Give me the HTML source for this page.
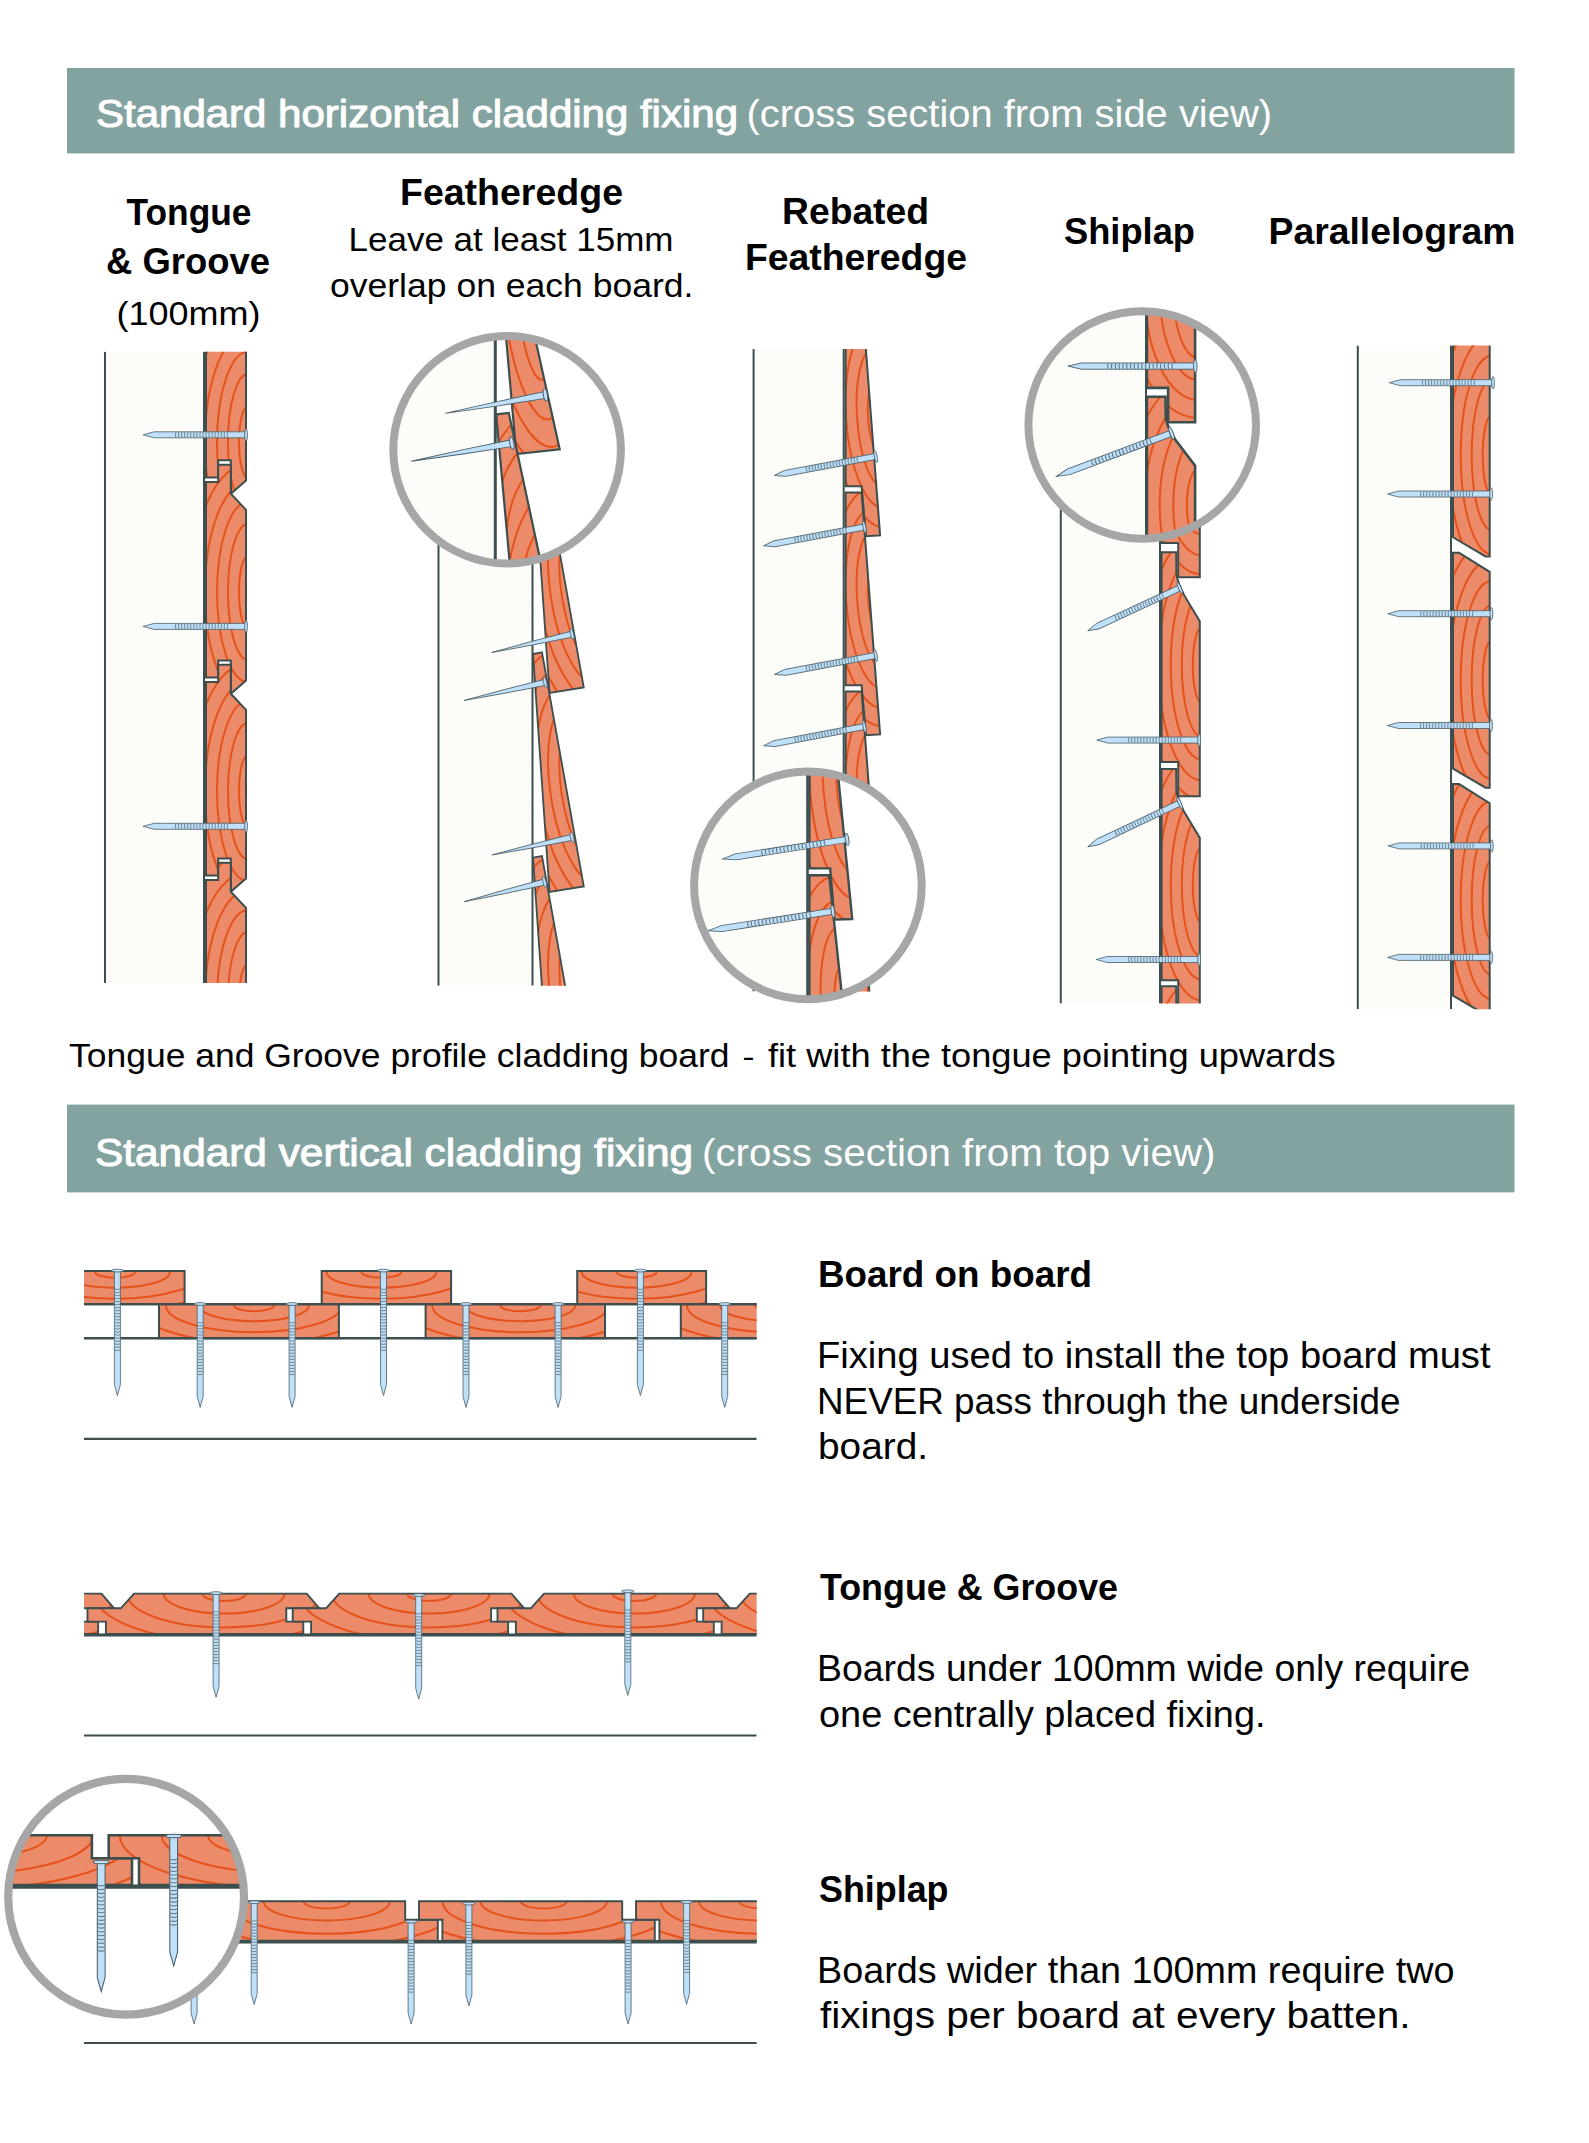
<!DOCTYPE html>
<html lang="en"><head><meta charset="utf-8"><title>Cladding fixing guide</title>
<style>
html,body{margin:0;padding:0;background:#fff;}
body{width:1589px;height:2143px;overflow:hidden;font-family:"Liberation Sans",sans-serif;}
svg{display:block;}
</style></head><body>
<svg width="1589" height="2143" viewBox="0 0 1589 2143" font-family="'Liberation Sans', sans-serif">
<defs><clipPath id="d1"><rect x="90" y="351.7" width="180" height="631.3"/></clipPath><clipPath id="b2"><polygon points="206.0,321.7 246.0,321.7 246.0,480.5 230.8,493.7 230.8,460.3 218.2,460.3 218.2,477.5 206.0,477.5"/></clipPath><clipPath id="b3"><polygon points="206.0,482.0 218.2,482.0 218.2,464.7 230.8,464.7 230.8,493.7 246.0,509.8 246.0,680.6 230.8,693.8 230.8,660.4 218.2,660.4 218.2,677.6 206.0,677.6"/></clipPath><clipPath id="b4"><polygon points="206.0,682.1 218.2,682.1 218.2,664.8 230.8,664.8 230.8,693.8 246.0,709.9 246.0,878.6 230.8,891.8 230.8,858.4 218.2,858.4 218.2,875.6 206.0,875.6"/></clipPath><clipPath id="b5"><polygon points="206.0,880.1 218.2,880.1 218.2,862.8 230.8,862.8 230.8,891.8 246.0,907.9 246.0,1013.0 206.0,1013.0"/></clipPath><clipPath id="r6"><rect x="420" y="372.0" width="200" height="613.8"/></clipPath><clipPath id="b7"><polygon points="533.0,248.0 542.0,246.3 583.8,480.5 549.5,486.0"/></clipPath><clipPath id="b8"><polygon points="533.0,455.0 542.0,453.3 583.8,687.5 549.5,693.0"/></clipPath><clipPath id="b9"><polygon points="533.0,654.0 542.0,652.3 583.8,886.5 549.5,892.0"/></clipPath><clipPath id="b10"><polygon points="533.0,857.7 542.0,856.0 583.8,1090.2 549.5,1095.7"/></clipPath><clipPath id="k11"><circle cx="507.1" cy="449.8" r="113.7"/></clipPath><clipPath id="b12"><polygon points="505.0,325.0 532.2,325.0 559.7,449.3 516.3,454.0"/></clipPath><clipPath id="b13"><polygon points="496.2,414.4 508.8,412.9 543.5,575.0 510.8,575.0"/></clipPath><clipPath id="r14"><rect x="740" y="348.9" width="200" height="642.7"/></clipPath><clipPath id="b15"><polygon points="845.6,328.9 864.3,328.9 880.1,535.4 866.0,536.2 861.6,486.3 845.6,486.3"/></clipPath><clipPath id="b16"><polygon points="845.6,492.4 861.6,492.4 880.1,734.4 866.0,735.2 861.6,685.3 845.6,685.3"/></clipPath><clipPath id="b17"><polygon points="845.6,691.4 861.6,691.4 880.1,933.4 866.0,934.2 861.6,884.3 845.6,884.3"/></clipPath><clipPath id="b18"><polygon points="845.6,890.4 861.6,890.4 880.1,1132.4 866.0,1133.2 861.6,1083.3 845.6,1083.3"/></clipPath><clipPath id="k19"><circle cx="807.9" cy="885.4" r="114"/></clipPath><clipPath id="b20"><polygon points="809.4,740.0 834.6,740.0 852.2,919.0 834.4,919.6 830.1,868.4 809.4,868.4"/></clipPath><clipPath id="b21"><polygon points="809.4,875.2 829.1,875.2 843.5,1010.0 809.4,1010.0"/></clipPath><clipPath id="r22"><rect x="1040" y="360.0" width="200" height="643.4"/></clipPath><clipPath id="b23"><polygon points="1161.6,340.0 1199.8,340.0 1199.8,577.3 1178.2,577.3 1178.2,543.0 1161.6,543.0"/></clipPath><clipPath id="b24"><polygon points="1161.6,552.2 1176.2,552.2 1176.4,573.2 1177.2,578.2 1179.4,584.8 1184.0,594.9 1199.8,621.2 1199.8,796.3 1178.2,796.3 1178.2,762.0 1161.6,762.0"/></clipPath><clipPath id="b25"><polygon points="1161.6,768.9 1176.2,768.9 1176.4,789.9 1177.2,794.9 1179.4,801.5 1184.0,811.6 1199.8,837.9 1199.8,1014.5 1178.2,1014.5 1178.2,980.2 1161.6,980.2"/></clipPath><clipPath id="b26"><polygon points="1161.6,986.3 1176.2,986.3 1176.4,1007.3 1177.2,1012.3 1179.4,1018.9 1184.0,1029.0 1199.8,1055.3 1199.8,1023.4 1161.6,1023.4"/></clipPath><clipPath id="k27"><circle cx="1142.2" cy="425.0" r="114"/></clipPath><clipPath id="b28"><polygon points="1146.9,290.0 1195.1,290.0 1195.1,422.2 1168.1,422.2 1168.1,387.9 1146.9,387.9"/></clipPath><clipPath id="b29"><polygon points="1146.9,396.8 1165.5,396.8 1165.8,417.8 1166.8,422.8 1169.5,429.4 1175.2,439.5 1195.1,465.8 1195.1,560.0 1146.9,560.0"/></clipPath><clipPath id="r30"><rect x="1340" y="345.5" width="200" height="663.7"/></clipPath><clipPath id="b31"><polygon points="1453.0,325.5 1489.7,325.5 1489.7,556.4 1485.5,556.4 1453.0,537.3"/></clipPath><clipPath id="b32"><polygon points="1453.0,552.8 1459.1,552.8 1489.7,571.9 1489.7,787.7 1485.5,787.7 1453.0,768.6"/></clipPath><clipPath id="b33"><polygon points="1453.0,784.1 1459.1,784.1 1489.7,803.2 1489.7,1014.7 1485.5,1014.7 1453.0,995.6"/></clipPath><clipPath id="b34"><polygon points="1453.0,1011.1 1459.1,1011.1 1489.7,1030.2 1489.7,1039.2 1453.0,1039.2"/></clipPath><clipPath id="r35"><rect x="84.0" y="1250" width="672.7" height="220"/></clipPath><clipPath id="b36"><polygon points="55.0,1271.1 184.6,1271.1 184.6,1304.2 55.0,1304.2"/></clipPath><clipPath id="b37"><polygon points="321.7,1271.1 451.1,1271.1 451.1,1304.2 321.7,1304.2"/></clipPath><clipPath id="b38"><polygon points="577.2,1271.1 706.1,1271.1 706.1,1304.2 577.2,1304.2"/></clipPath><clipPath id="b39"><polygon points="159.0,1304.2 338.9,1304.2 338.9,1338.2 159.0,1338.2"/></clipPath><clipPath id="b40"><polygon points="425.6,1304.2 605.0,1304.2 605.0,1338.2 425.6,1338.2"/></clipPath><clipPath id="b41"><polygon points="680.8,1304.2 795.7,1304.2 795.7,1338.2 680.8,1338.2"/></clipPath><clipPath id="r42"><rect x="84.0" y="1570" width="672.7" height="200"/></clipPath><clipPath id="b43"><polygon points="54.0,1593.6 54.0,1634.0 98.1,1634.0 98.1,1621.6 81.1,1621.6 81.1,1608.3 114.1,1608.3 101.5,1593.6"/></clipPath><clipPath id="b44"><polygon points="134.1,1593.6 120.8,1608.3 87.5,1608.3 87.5,1621.6 105.9,1621.6 105.9,1634.0 303.3,1634.0 303.3,1621.6 286.3,1621.6 286.3,1608.3 319.3,1608.3 306.7,1593.6"/></clipPath><clipPath id="b45"><polygon points="339.3,1593.6 326.0,1608.3 292.7,1608.3 292.7,1621.6 311.1,1621.6 311.1,1634.0 508.1,1634.0 508.1,1621.6 491.1,1621.6 491.1,1608.3 524.1,1608.3 511.5,1593.6"/></clipPath><clipPath id="b46"><polygon points="544.1,1593.6 530.8,1608.3 497.5,1608.3 497.5,1621.6 515.9,1621.6 515.9,1634.0 713.8,1634.0 713.8,1621.6 696.8,1621.6 696.8,1608.3 729.8,1608.3 717.2,1593.6"/></clipPath><clipPath id="b47"><polygon points="796.7,1593.6 796.7,1634.0 721.6,1634.0 721.6,1621.6 703.2,1621.6 703.2,1608.3 736.5,1608.3 749.8,1593.6"/></clipPath><clipPath id="r48"><rect x="83.8" y="1880" width="673.0" height="200"/></clipPath><clipPath id="b49"><polygon points="-15.0,1901.3 -15.0,1919.7 8.4,1919.7 8.4,1940.8 220.8,1940.8 220.8,1919.7 188.2,1919.7 188.2,1901.3"/></clipPath><clipPath id="b50"><polygon points="202.0,1901.3 202.0,1919.7 225.4,1919.7 225.4,1940.8 437.8,1940.8 437.8,1919.7 405.2,1919.7 405.2,1901.3"/></clipPath><clipPath id="b51"><polygon points="419.0,1901.3 419.0,1919.7 442.4,1919.7 442.4,1940.8 654.8,1940.8 654.8,1919.7 622.2,1919.7 622.2,1901.3"/></clipPath><clipPath id="b52"><polygon points="636.0,1901.3 636.0,1919.7 659.4,1919.7 659.4,1940.8 796.8,1940.8 796.8,1901.3"/></clipPath><clipPath id="k53"><circle cx="126.1" cy="1896.8" r="117.9"/></clipPath><clipPath id="b54"><polygon points="-10.0,1835.2 91.9,1835.2 91.9,1858.2 132.0,1858.2 132.0,1885.0 -10.0,1885.0"/></clipPath><clipPath id="b55"><polygon points="108.7,1835.2 270.0,1835.2 270.0,1885.0 139.0,1885.0 139.0,1858.2 108.7,1858.2"/></clipPath></defs>
<rect x="67.0" y="68.0" width="1447.5" height="85.4" fill="#83A3A1"/>
<rect x="67.0" y="1104.6" width="1447.5" height="87.8" fill="#83A3A1"/>
<text y="127.0" font-size="38" fill="#fff"><tspan x="96.0" font-weight="normal" textLength="642.0" lengthAdjust="spacingAndGlyphs" stroke="#fff" stroke-width="1.0" stroke-linejoin="round">Standard horizontal cladding fixing</tspan> <tspan x="746.5" font-weight="normal" textLength="525.5" lengthAdjust="spacingAndGlyphs">(cross section from side view)</tspan></text>
<text y="1166.0" font-size="38" fill="#fff"><tspan x="95.0" font-weight="normal" textLength="598.0" lengthAdjust="spacingAndGlyphs" stroke="#fff" stroke-width="1.0" stroke-linejoin="round">Standard vertical cladding fixing</tspan> <tspan x="702.0" font-weight="normal" textLength="513.5" lengthAdjust="spacingAndGlyphs">(cross section from top view)</tspan></text>
<text x="126.5" y="225.0" font-size="36" font-weight="bold" fill="#000" text-anchor="start" textLength="125.0" lengthAdjust="spacingAndGlyphs">Tongue</text>
<text x="106.0" y="274.4" font-size="36" font-weight="bold" fill="#000" text-anchor="start" textLength="164.0" lengthAdjust="spacingAndGlyphs">&amp; Groove</text>
<text x="116.5" y="324.7" font-size="33" font-weight="normal" fill="#000" text-anchor="start" textLength="144.0" lengthAdjust="spacingAndGlyphs">(100mm)</text>
<text x="400.0" y="205.4" font-size="36" font-weight="bold" fill="#000" text-anchor="start" textLength="223.0" lengthAdjust="spacingAndGlyphs">Featheredge</text>
<text x="348.5" y="250.7" font-size="33" font-weight="normal" fill="#000" text-anchor="start" textLength="325.0" lengthAdjust="spacingAndGlyphs">Leave at least 15mm</text>
<text x="330.0" y="297.0" font-size="33" font-weight="normal" fill="#000" text-anchor="start" textLength="363.5" lengthAdjust="spacingAndGlyphs">overlap on each board.</text>
<text x="782.0" y="223.8" font-size="36" font-weight="bold" fill="#000" text-anchor="start" textLength="147.0" lengthAdjust="spacingAndGlyphs">Rebated</text>
<text x="745.0" y="269.9" font-size="36" font-weight="bold" fill="#000" text-anchor="start" textLength="222.0" lengthAdjust="spacingAndGlyphs">Featheredge</text>
<text x="1064.0" y="244.3" font-size="36" font-weight="bold" fill="#000" text-anchor="start" textLength="131.0" lengthAdjust="spacingAndGlyphs">Shiplap</text>
<text x="1268.5" y="244.3" font-size="36" font-weight="bold" fill="#000" text-anchor="start" textLength="247.0" lengthAdjust="spacingAndGlyphs">Parallelogram</text>
<text y="1066.8" font-size="33.5" fill="#000"><tspan x="69.0" font-weight="normal" textLength="660.5" lengthAdjust="spacingAndGlyphs">Tongue and Groove profile cladding board</tspan> <tspan x="744.0" font-weight="normal" textLength="9.0" lengthAdjust="spacingAndGlyphs">–</tspan> <tspan x="768.0" font-weight="normal" textLength="567.5" lengthAdjust="spacingAndGlyphs">fit with the tongue pointing upwards</tspan></text>
<text x="818.0" y="1286.9" font-size="36" font-weight="bold" fill="#000" text-anchor="start" textLength="274.0" lengthAdjust="spacingAndGlyphs">Board on board</text>
<text x="817.0" y="1367.9" font-size="36" font-weight="normal" fill="#000" text-anchor="start" textLength="673.5" lengthAdjust="spacingAndGlyphs">Fixing used to install the top board must</text>
<text x="817.0" y="1414.1" font-size="36" font-weight="normal" fill="#000" text-anchor="start" textLength="583.5" lengthAdjust="spacingAndGlyphs">NEVER pass through the underside</text>
<text x="818.0" y="1459.4" font-size="36" font-weight="normal" fill="#000" text-anchor="start" textLength="110.0" lengthAdjust="spacingAndGlyphs">board.</text>
<text x="820.0" y="1599.9" font-size="36" font-weight="bold" fill="#000" text-anchor="start" textLength="298.0" lengthAdjust="spacingAndGlyphs">Tongue &amp; Groove</text>
<text x="817.0" y="1681.4" font-size="36" font-weight="normal" fill="#000" text-anchor="start" textLength="653.0" lengthAdjust="spacingAndGlyphs">Boards under 100mm wide only require</text>
<text x="819.0" y="1726.6" font-size="36" font-weight="normal" fill="#000" text-anchor="start" textLength="446.5" lengthAdjust="spacingAndGlyphs">one centrally placed fixing.</text>
<text x="819.0" y="1901.9" font-size="36" font-weight="bold" fill="#000" text-anchor="start" textLength="129.5" lengthAdjust="spacingAndGlyphs">Shiplap</text>
<text x="817.0" y="1982.9" font-size="36" font-weight="normal" fill="#000" text-anchor="start" textLength="637.5" lengthAdjust="spacingAndGlyphs">Boards wider than 100mm require two</text>
<text x="820.0" y="2028.2" font-size="36" font-weight="normal" fill="#000" text-anchor="start" textLength="590.5" lengthAdjust="spacingAndGlyphs">fixings per board at every batten.</text>
<g clip-path="url(#d1)"><rect x="105.0" y="351.7" width="99.0" height="631.3" fill="#FCFDF8"/><line x1="105.0" y1="351.7" x2="105.0" y2="983.0" stroke="#3C4E4E" stroke-width="2"/><line x1="204.0" y1="351.7" x2="204.0" y2="983.0" stroke="#3C4E4E" stroke-width="2"/><polygon points="206.0,321.7 246.0,321.7 246.0,480.5 230.8,493.7 230.8,460.3 218.2,460.3 218.2,477.5 206.0,477.5" fill="#EC8B69"/><g clip-path="url(#b2)"><g fill="none" stroke="#E5531C" stroke-width="2.0"><ellipse cx="248.0" cy="441.9" rx="9.0" ry="36.0"/><ellipse cx="248.0" cy="441.9" rx="20.0" ry="68.0"/><ellipse cx="248.0" cy="441.9" rx="31.0" ry="90.0"/><ellipse cx="248.0" cy="441.9" rx="43.0" ry="110.0"/><ellipse cx="248.0" cy="441.9" rx="57.0" ry="128.0"/><ellipse cx="248.0" cy="441.9" rx="73.0" ry="146.0"/><ellipse cx="248.0" cy="441.9" rx="92.0" ry="164.0"/><ellipse cx="248.0" cy="441.9" rx="115.0" ry="182.0"/><ellipse cx="248.0" cy="441.9" rx="142.0" ry="200.0"/><ellipse cx="248.0" cy="441.9" rx="175.0" ry="220.0"/></g></g><polygon points="206.0,321.7 246.0,321.7 246.0,480.5 230.8,493.7 230.8,460.3 218.2,460.3 218.2,477.5 206.0,477.5" fill="none" stroke="#3C4E4E" stroke-width="2.0" stroke-linejoin="miter"/><polygon points="206.0,482.0 218.2,482.0 218.2,464.7 230.8,464.7 230.8,493.7 246.0,509.8 246.0,680.6 230.8,693.8 230.8,660.4 218.2,660.4 218.2,677.6 206.0,677.6" fill="#EC8B69"/><g clip-path="url(#b3)"><g fill="none" stroke="#E5531C" stroke-width="2.0"><ellipse cx="248.0" cy="592.0" rx="9.0" ry="36.0"/><ellipse cx="248.0" cy="592.0" rx="20.0" ry="68.0"/><ellipse cx="248.0" cy="592.0" rx="31.0" ry="90.0"/><ellipse cx="248.0" cy="592.0" rx="43.0" ry="110.0"/><ellipse cx="248.0" cy="592.0" rx="57.0" ry="128.0"/><ellipse cx="248.0" cy="592.0" rx="73.0" ry="146.0"/><ellipse cx="248.0" cy="592.0" rx="92.0" ry="164.0"/><ellipse cx="248.0" cy="592.0" rx="115.0" ry="182.0"/><ellipse cx="248.0" cy="592.0" rx="142.0" ry="200.0"/><ellipse cx="248.0" cy="592.0" rx="175.0" ry="220.0"/></g></g><polygon points="206.0,482.0 218.2,482.0 218.2,464.7 230.8,464.7 230.8,493.7 246.0,509.8 246.0,680.6 230.8,693.8 230.8,660.4 218.2,660.4 218.2,677.6 206.0,677.6" fill="none" stroke="#3C4E4E" stroke-width="2.0" stroke-linejoin="miter"/><polygon points="206.0,682.1 218.2,682.1 218.2,664.8 230.8,664.8 230.8,693.8 246.0,709.9 246.0,878.6 230.8,891.8 230.8,858.4 218.2,858.4 218.2,875.6 206.0,875.6" fill="#EC8B69"/><g clip-path="url(#b4)"><g fill="none" stroke="#E5531C" stroke-width="2.0"><ellipse cx="248.0" cy="791.1" rx="9.0" ry="36.0"/><ellipse cx="248.0" cy="791.1" rx="20.0" ry="68.0"/><ellipse cx="248.0" cy="791.1" rx="31.0" ry="90.0"/><ellipse cx="248.0" cy="791.1" rx="43.0" ry="110.0"/><ellipse cx="248.0" cy="791.1" rx="57.0" ry="128.0"/><ellipse cx="248.0" cy="791.1" rx="73.0" ry="146.0"/><ellipse cx="248.0" cy="791.1" rx="92.0" ry="164.0"/><ellipse cx="248.0" cy="791.1" rx="115.0" ry="182.0"/><ellipse cx="248.0" cy="791.1" rx="142.0" ry="200.0"/><ellipse cx="248.0" cy="791.1" rx="175.0" ry="220.0"/></g></g><polygon points="206.0,682.1 218.2,682.1 218.2,664.8 230.8,664.8 230.8,693.8 246.0,709.9 246.0,878.6 230.8,891.8 230.8,858.4 218.2,858.4 218.2,875.6 206.0,875.6" fill="none" stroke="#3C4E4E" stroke-width="2.0" stroke-linejoin="miter"/><polygon points="206.0,880.1 218.2,880.1 218.2,862.8 230.8,862.8 230.8,891.8 246.0,907.9 246.0,1013.0 206.0,1013.0" fill="#EC8B69"/><g clip-path="url(#b5)"><g fill="none" stroke="#E5531C" stroke-width="2.0"><ellipse cx="248.0" cy="1000.0" rx="9.0" ry="36.0"/><ellipse cx="248.0" cy="1000.0" rx="20.0" ry="68.0"/><ellipse cx="248.0" cy="1000.0" rx="31.0" ry="90.0"/><ellipse cx="248.0" cy="1000.0" rx="43.0" ry="110.0"/><ellipse cx="248.0" cy="1000.0" rx="57.0" ry="128.0"/><ellipse cx="248.0" cy="1000.0" rx="73.0" ry="146.0"/><ellipse cx="248.0" cy="1000.0" rx="92.0" ry="164.0"/><ellipse cx="248.0" cy="1000.0" rx="115.0" ry="182.0"/><ellipse cx="248.0" cy="1000.0" rx="142.0" ry="200.0"/><ellipse cx="248.0" cy="1000.0" rx="175.0" ry="220.0"/></g></g><polygon points="206.0,880.1 218.2,880.1 218.2,862.8 230.8,862.8 230.8,891.8 246.0,907.9 246.0,1013.0 206.0,1013.0" fill="none" stroke="#3C4E4E" stroke-width="2.0" stroke-linejoin="miter"/><g transform="translate(247.7,434.8) rotate(0.00) scale(1.000,1.000)"><path d="M-2.5,-3.0 L-93.6,-3.0 L-104.6,0 L-93.6,3.0 L-2.5,3.0 Z" fill="#BFE0F8" stroke="#4A5E68" stroke-width="0.8" stroke-linejoin="miter"/><path d="M-20.0,-2.5 q-1.1,2.5 0,5.0 M-23.1,-2.5 q-1.1,2.5 0,5.0 M-26.1,-2.5 q-1.1,2.5 0,5.0 M-29.2,-2.5 q-1.1,2.5 0,5.0 M-32.2,-2.5 q-1.1,2.5 0,5.0 M-35.2,-2.5 q-1.1,2.5 0,5.0 M-38.3,-2.5 q-1.1,2.5 0,5.0 M-41.3,-2.5 q-1.1,2.5 0,5.0 M-44.4,-2.5 q-1.1,2.5 0,5.0 M-47.4,-2.5 q-1.1,2.5 0,5.0 M-50.5,-2.5 q-1.1,2.5 0,5.0 M-53.5,-2.5 q-1.1,2.5 0,5.0 M-56.6,-2.5 q-1.1,2.5 0,5.0 M-59.6,-2.5 q-1.1,2.5 0,5.0 M-62.7,-2.5 q-1.1,2.5 0,5.0 M-65.7,-2.5 q-1.1,2.5 0,5.0 M-68.8,-2.5 q-1.1,2.5 0,5.0 M-71.8,-2.5 q-1.1,2.5 0,5.0" fill="none" stroke="#4A5E68" stroke-width="0.9" opacity="0.8"/><ellipse cx="-1.6" cy="0" rx="1.4" ry="6.2" fill="#BFE0F8" stroke="#4A5E68" stroke-width="0.8"/></g><g transform="translate(247.7,626.4) rotate(0.00) scale(1.000,1.000)"><path d="M-2.5,-3.0 L-93.6,-3.0 L-104.6,0 L-93.6,3.0 L-2.5,3.0 Z" fill="#BFE0F8" stroke="#4A5E68" stroke-width="0.8" stroke-linejoin="miter"/><path d="M-20.0,-2.5 q-1.1,2.5 0,5.0 M-23.1,-2.5 q-1.1,2.5 0,5.0 M-26.1,-2.5 q-1.1,2.5 0,5.0 M-29.2,-2.5 q-1.1,2.5 0,5.0 M-32.2,-2.5 q-1.1,2.5 0,5.0 M-35.2,-2.5 q-1.1,2.5 0,5.0 M-38.3,-2.5 q-1.1,2.5 0,5.0 M-41.3,-2.5 q-1.1,2.5 0,5.0 M-44.4,-2.5 q-1.1,2.5 0,5.0 M-47.4,-2.5 q-1.1,2.5 0,5.0 M-50.5,-2.5 q-1.1,2.5 0,5.0 M-53.5,-2.5 q-1.1,2.5 0,5.0 M-56.6,-2.5 q-1.1,2.5 0,5.0 M-59.6,-2.5 q-1.1,2.5 0,5.0 M-62.7,-2.5 q-1.1,2.5 0,5.0 M-65.7,-2.5 q-1.1,2.5 0,5.0 M-68.8,-2.5 q-1.1,2.5 0,5.0 M-71.8,-2.5 q-1.1,2.5 0,5.0" fill="none" stroke="#4A5E68" stroke-width="0.9" opacity="0.8"/><ellipse cx="-1.6" cy="0" rx="1.4" ry="6.2" fill="#BFE0F8" stroke="#4A5E68" stroke-width="0.8"/></g><g transform="translate(247.7,826.3) rotate(0.00) scale(1.000,1.000)"><path d="M-2.5,-3.0 L-93.6,-3.0 L-104.6,0 L-93.6,3.0 L-2.5,3.0 Z" fill="#BFE0F8" stroke="#4A5E68" stroke-width="0.8" stroke-linejoin="miter"/><path d="M-20.0,-2.5 q-1.1,2.5 0,5.0 M-23.1,-2.5 q-1.1,2.5 0,5.0 M-26.1,-2.5 q-1.1,2.5 0,5.0 M-29.2,-2.5 q-1.1,2.5 0,5.0 M-32.2,-2.5 q-1.1,2.5 0,5.0 M-35.2,-2.5 q-1.1,2.5 0,5.0 M-38.3,-2.5 q-1.1,2.5 0,5.0 M-41.3,-2.5 q-1.1,2.5 0,5.0 M-44.4,-2.5 q-1.1,2.5 0,5.0 M-47.4,-2.5 q-1.1,2.5 0,5.0 M-50.5,-2.5 q-1.1,2.5 0,5.0 M-53.5,-2.5 q-1.1,2.5 0,5.0 M-56.6,-2.5 q-1.1,2.5 0,5.0 M-59.6,-2.5 q-1.1,2.5 0,5.0 M-62.7,-2.5 q-1.1,2.5 0,5.0 M-65.7,-2.5 q-1.1,2.5 0,5.0 M-68.8,-2.5 q-1.1,2.5 0,5.0 M-71.8,-2.5 q-1.1,2.5 0,5.0" fill="none" stroke="#4A5E68" stroke-width="0.9" opacity="0.8"/><ellipse cx="-1.6" cy="0" rx="1.4" ry="6.2" fill="#BFE0F8" stroke="#4A5E68" stroke-width="0.8"/></g></g>
<g clip-path="url(#r6)"><rect x="438.5" y="372.0" width="94.0" height="613.8" fill="#FCFDF8"/><line x1="438.5" y1="372.0" x2="438.5" y2="985.8" stroke="#3C4E4E" stroke-width="2"/><line x1="532.5" y1="372.0" x2="532.5" y2="985.8" stroke="#3C4E4E" stroke-width="2"/><polygon points="533.0,248.0 542.0,246.3 583.8,480.5 549.5,486.0" fill="#EC8B69"/><g clip-path="url(#b7)"><g fill="none" stroke="#E5531C" stroke-width="2.0" transform="rotate(-9 581.8 387.0)"><ellipse cx="581.8" cy="387.0" rx="9.0" ry="36.0"/><ellipse cx="581.8" cy="387.0" rx="20.0" ry="68.0"/><ellipse cx="581.8" cy="387.0" rx="31.0" ry="90.0"/><ellipse cx="581.8" cy="387.0" rx="43.0" ry="110.0"/><ellipse cx="581.8" cy="387.0" rx="57.0" ry="128.0"/><ellipse cx="581.8" cy="387.0" rx="73.0" ry="146.0"/><ellipse cx="581.8" cy="387.0" rx="92.0" ry="164.0"/><ellipse cx="581.8" cy="387.0" rx="115.0" ry="182.0"/><ellipse cx="581.8" cy="387.0" rx="142.0" ry="200.0"/></g></g><polygon points="533.0,248.0 542.0,246.3 583.8,480.5 549.5,486.0" fill="none" stroke="#3C4E4E" stroke-width="1.8" stroke-linejoin="miter"/><polygon points="533.0,455.0 542.0,453.3 583.8,687.5 549.5,693.0" fill="#EC8B69"/><g clip-path="url(#b8)"><g fill="none" stroke="#E5531C" stroke-width="2.0" transform="rotate(-9 581.8 594.0)"><ellipse cx="581.8" cy="594.0" rx="9.0" ry="36.0"/><ellipse cx="581.8" cy="594.0" rx="20.0" ry="68.0"/><ellipse cx="581.8" cy="594.0" rx="31.0" ry="90.0"/><ellipse cx="581.8" cy="594.0" rx="43.0" ry="110.0"/><ellipse cx="581.8" cy="594.0" rx="57.0" ry="128.0"/><ellipse cx="581.8" cy="594.0" rx="73.0" ry="146.0"/><ellipse cx="581.8" cy="594.0" rx="92.0" ry="164.0"/><ellipse cx="581.8" cy="594.0" rx="115.0" ry="182.0"/><ellipse cx="581.8" cy="594.0" rx="142.0" ry="200.0"/></g></g><polygon points="533.0,455.0 542.0,453.3 583.8,687.5 549.5,693.0" fill="none" stroke="#3C4E4E" stroke-width="1.8" stroke-linejoin="miter"/><polygon points="533.0,654.0 542.0,652.3 583.8,886.5 549.5,892.0" fill="#EC8B69"/><g clip-path="url(#b9)"><g fill="none" stroke="#E5531C" stroke-width="2.0" transform="rotate(-9 581.8 793.0)"><ellipse cx="581.8" cy="793.0" rx="9.0" ry="36.0"/><ellipse cx="581.8" cy="793.0" rx="20.0" ry="68.0"/><ellipse cx="581.8" cy="793.0" rx="31.0" ry="90.0"/><ellipse cx="581.8" cy="793.0" rx="43.0" ry="110.0"/><ellipse cx="581.8" cy="793.0" rx="57.0" ry="128.0"/><ellipse cx="581.8" cy="793.0" rx="73.0" ry="146.0"/><ellipse cx="581.8" cy="793.0" rx="92.0" ry="164.0"/><ellipse cx="581.8" cy="793.0" rx="115.0" ry="182.0"/><ellipse cx="581.8" cy="793.0" rx="142.0" ry="200.0"/></g></g><polygon points="533.0,654.0 542.0,652.3 583.8,886.5 549.5,892.0" fill="none" stroke="#3C4E4E" stroke-width="1.8" stroke-linejoin="miter"/><polygon points="533.0,857.7 542.0,856.0 583.8,1090.2 549.5,1095.7" fill="#EC8B69"/><g clip-path="url(#b10)"><g fill="none" stroke="#E5531C" stroke-width="2.0" transform="rotate(-9 581.8 996.7)"><ellipse cx="581.8" cy="996.7" rx="9.0" ry="36.0"/><ellipse cx="581.8" cy="996.7" rx="20.0" ry="68.0"/><ellipse cx="581.8" cy="996.7" rx="31.0" ry="90.0"/><ellipse cx="581.8" cy="996.7" rx="43.0" ry="110.0"/><ellipse cx="581.8" cy="996.7" rx="57.0" ry="128.0"/><ellipse cx="581.8" cy="996.7" rx="73.0" ry="146.0"/><ellipse cx="581.8" cy="996.7" rx="92.0" ry="164.0"/><ellipse cx="581.8" cy="996.7" rx="115.0" ry="182.0"/><ellipse cx="581.8" cy="996.7" rx="142.0" ry="200.0"/></g></g><polygon points="533.0,857.7 542.0,856.0 583.8,1090.2 549.5,1095.7" fill="none" stroke="#3C4E4E" stroke-width="1.8" stroke-linejoin="miter"/><g transform="translate(573.7,633.7) rotate(-12.91) scale(1.000,1.000)"><path d="M-2,-3.0 L-42.1,-1.86 L-84.1,0 L-42.1,1.86 L-2,3.0 Z" fill="#BFE0F8" stroke="#4A5E68" stroke-width="0.8" stroke-linejoin="miter"/><ellipse cx="-1.7" cy="0" rx="1.6" ry="5.4" fill="#BFE0F8" stroke="#4A5E68" stroke-width="0.8"/></g><g transform="translate(546.8,682.0) rotate(-12.56) scale(1.000,1.000)"><path d="M-2,-3.0 L-42.3,-1.86 L-84.6,0 L-42.3,1.86 L-2,3.0 Z" fill="#BFE0F8" stroke="#4A5E68" stroke-width="0.8" stroke-linejoin="miter"/><ellipse cx="-1.7" cy="0" rx="1.6" ry="5.4" fill="#BFE0F8" stroke="#4A5E68" stroke-width="0.8"/></g><g transform="translate(573.7,837.0) rotate(-12.37) scale(1.000,1.000)"><path d="M-2,-3.0 L-41.8,-1.86 L-83.5,0 L-41.8,1.86 L-2,3.0 Z" fill="#BFE0F8" stroke="#4A5E68" stroke-width="0.8" stroke-linejoin="miter"/><ellipse cx="-1.7" cy="0" rx="1.6" ry="5.4" fill="#BFE0F8" stroke="#4A5E68" stroke-width="0.8"/></g><g transform="translate(546.2,881.6) rotate(-13.77) scale(1.000,1.000)"><path d="M-2,-3.0 L-42.2,-1.86 L-84.4,0 L-42.2,1.86 L-2,3.0 Z" fill="#BFE0F8" stroke="#4A5E68" stroke-width="0.8" stroke-linejoin="miter"/><ellipse cx="-1.7" cy="0" rx="1.6" ry="5.4" fill="#BFE0F8" stroke="#4A5E68" stroke-width="0.8"/></g></g><g clip-path="url(#k11)"><rect x="380.0" y="320.0" width="260.0" height="260.0" fill="#fff"/><rect x="380.0" y="320.0" width="115.3" height="260.0" fill="#FCFDF8"/><line x1="495.3" y1="320.0" x2="495.3" y2="580.0" stroke="#3C4E4E" stroke-width="3"/><polygon points="505.0,325.0 532.2,325.0 559.7,449.3 516.3,454.0" fill="#EC8B69"/><g clip-path="url(#b12)"><g fill="none" stroke="#E5531C" stroke-width="2.0" transform="rotate(-10 534.0 335.0)"><ellipse cx="534.0" cy="335.0" rx="11.3" ry="45.4"/><ellipse cx="534.0" cy="335.0" rx="25.2" ry="85.7"/><ellipse cx="534.0" cy="335.0" rx="39.1" ry="113.4"/><ellipse cx="534.0" cy="335.0" rx="54.2" ry="138.6"/><ellipse cx="534.0" cy="335.0" rx="71.8" ry="161.3"/><ellipse cx="534.0" cy="335.0" rx="92.0" ry="184.0"/><ellipse cx="534.0" cy="335.0" rx="115.9" ry="206.6"/><ellipse cx="534.0" cy="335.0" rx="144.9" ry="229.3"/><ellipse cx="534.0" cy="335.0" rx="178.9" ry="252.0"/></g></g><polygon points="505.0,325.0 532.2,325.0 559.7,449.3 516.3,454.0" fill="none" stroke="#3C4E4E" stroke-width="2.2" stroke-linejoin="miter"/><polygon points="496.2,414.4 508.8,412.9 543.5,575.0 510.8,575.0" fill="#EC8B69"/><g clip-path="url(#b13)"><g fill="none" stroke="#E5531C" stroke-width="2.0"><path d="M492,456 Q499,438 512,424"/><path d="M500,492 Q504,468 520,450"/><path d="M507,530 Q509,500 524,478"/><path d="M509,566 Q514,530 531,503"/><path d="M522,580 Q524,556 534,536"/><path d="M536,585 Q537,572 541,560"/></g></g><polygon points="496.2,414.4 508.8,412.9 543.5,575.0 510.8,575.0" fill="none" stroke="#3C4E4E" stroke-width="2.2" stroke-linejoin="miter"/><g transform="translate(547.5,394.6) rotate(-10.40) scale(1.260,1.150)"><path d="M-2,-3.0 L-41.3,-1.86 L-82.6,0 L-41.3,1.86 L-2,3.0 Z" fill="#BFE0F8" stroke="#4A5E68" stroke-width="0.8" stroke-linejoin="miter"/><ellipse cx="-1.7" cy="0" rx="1.6" ry="5.4" fill="#BFE0F8" stroke="#4A5E68" stroke-width="0.8"/></g><g transform="translate(513.9,442.7) rotate(-10.21) scale(1.260,1.150)"><path d="M-2,-3.0 L-41.4,-1.86 L-82.8,0 L-41.4,1.86 L-2,3.0 Z" fill="#BFE0F8" stroke="#4A5E68" stroke-width="0.8" stroke-linejoin="miter"/><ellipse cx="-1.7" cy="0" rx="1.6" ry="5.4" fill="#BFE0F8" stroke="#4A5E68" stroke-width="0.8"/></g></g><circle cx="507.1" cy="449.8" r="113.8" fill="none" stroke="#A6A6A6" stroke-width="8.0"/>
<g clip-path="url(#r14)"><rect x="753.6" y="348.9" width="90.0" height="642.7" fill="#FCFDF8"/><line x1="753.6" y1="348.9" x2="753.6" y2="991.6" stroke="#3C4E4E" stroke-width="2"/><line x1="843.7" y1="348.9" x2="843.7" y2="991.6" stroke="#3C4E4E" stroke-width="2"/><polygon points="845.6,328.9 864.3,328.9 880.1,535.4 866.0,536.2 861.6,486.3 845.6,486.3" fill="#EC8B69"/><g clip-path="url(#b15)"><g fill="none" stroke="#E5531C" stroke-width="2.0" transform="rotate(-4 877.1 417.6)"><ellipse cx="877.1" cy="417.6" rx="9.0" ry="36.0"/><ellipse cx="877.1" cy="417.6" rx="20.0" ry="68.0"/><ellipse cx="877.1" cy="417.6" rx="31.0" ry="90.0"/><ellipse cx="877.1" cy="417.6" rx="43.0" ry="110.0"/><ellipse cx="877.1" cy="417.6" rx="57.0" ry="128.0"/><ellipse cx="877.1" cy="417.6" rx="73.0" ry="146.0"/><ellipse cx="877.1" cy="417.6" rx="92.0" ry="164.0"/><ellipse cx="877.1" cy="417.6" rx="115.0" ry="182.0"/><ellipse cx="877.1" cy="417.6" rx="142.0" ry="200.0"/></g></g><polygon points="845.6,328.9 864.3,328.9 880.1,535.4 866.0,536.2 861.6,486.3 845.6,486.3" fill="none" stroke="#3C4E4E" stroke-width="2.0" stroke-linejoin="miter"/><polygon points="845.6,492.4 861.6,492.4 880.1,734.4 866.0,735.2 861.6,685.3 845.6,685.3" fill="#EC8B69"/><g clip-path="url(#b16)"><g fill="none" stroke="#E5531C" stroke-width="2.0" transform="rotate(-4 877.1 598.8)"><ellipse cx="877.1" cy="598.8" rx="9.0" ry="36.0"/><ellipse cx="877.1" cy="598.8" rx="20.0" ry="68.0"/><ellipse cx="877.1" cy="598.8" rx="31.0" ry="90.0"/><ellipse cx="877.1" cy="598.8" rx="43.0" ry="110.0"/><ellipse cx="877.1" cy="598.8" rx="57.0" ry="128.0"/><ellipse cx="877.1" cy="598.8" rx="73.0" ry="146.0"/><ellipse cx="877.1" cy="598.8" rx="92.0" ry="164.0"/><ellipse cx="877.1" cy="598.8" rx="115.0" ry="182.0"/><ellipse cx="877.1" cy="598.8" rx="142.0" ry="200.0"/></g></g><polygon points="845.6,492.4 861.6,492.4 880.1,734.4 866.0,735.2 861.6,685.3 845.6,685.3" fill="none" stroke="#3C4E4E" stroke-width="2.0" stroke-linejoin="miter"/><polygon points="845.6,691.4 861.6,691.4 880.1,933.4 866.0,934.2 861.6,884.3 845.6,884.3" fill="#EC8B69"/><g clip-path="url(#b17)"><g fill="none" stroke="#E5531C" stroke-width="2.0" transform="rotate(-4 877.1 797.8)"><ellipse cx="877.1" cy="797.8" rx="9.0" ry="36.0"/><ellipse cx="877.1" cy="797.8" rx="20.0" ry="68.0"/><ellipse cx="877.1" cy="797.8" rx="31.0" ry="90.0"/><ellipse cx="877.1" cy="797.8" rx="43.0" ry="110.0"/><ellipse cx="877.1" cy="797.8" rx="57.0" ry="128.0"/><ellipse cx="877.1" cy="797.8" rx="73.0" ry="146.0"/><ellipse cx="877.1" cy="797.8" rx="92.0" ry="164.0"/><ellipse cx="877.1" cy="797.8" rx="115.0" ry="182.0"/><ellipse cx="877.1" cy="797.8" rx="142.0" ry="200.0"/></g></g><polygon points="845.6,691.4 861.6,691.4 880.1,933.4 866.0,934.2 861.6,884.3 845.6,884.3" fill="none" stroke="#3C4E4E" stroke-width="2.0" stroke-linejoin="miter"/><polygon points="845.6,890.4 861.6,890.4 880.1,1132.4 866.0,1133.2 861.6,1083.3 845.6,1083.3" fill="#EC8B69"/><g clip-path="url(#b18)"><g fill="none" stroke="#E5531C" stroke-width="2.0" transform="rotate(-4 877.1 996.8)"><ellipse cx="877.1" cy="996.8" rx="9.0" ry="36.0"/><ellipse cx="877.1" cy="996.8" rx="20.0" ry="68.0"/><ellipse cx="877.1" cy="996.8" rx="31.0" ry="90.0"/><ellipse cx="877.1" cy="996.8" rx="43.0" ry="110.0"/><ellipse cx="877.1" cy="996.8" rx="57.0" ry="128.0"/><ellipse cx="877.1" cy="996.8" rx="73.0" ry="146.0"/><ellipse cx="877.1" cy="996.8" rx="92.0" ry="164.0"/><ellipse cx="877.1" cy="996.8" rx="115.0" ry="182.0"/><ellipse cx="877.1" cy="996.8" rx="142.0" ry="200.0"/></g></g><polygon points="845.6,890.4 861.6,890.4 880.1,1132.4 866.0,1133.2 861.6,1083.3 845.6,1083.3" fill="none" stroke="#3C4E4E" stroke-width="2.0" stroke-linejoin="miter"/><g transform="translate(877.3,456.1) rotate(-10.62) scale(1.000,1.000)"><path d="M-2.5,-3.0 L-93.69431694222945,-3.0 L-104.69431694222945,0 L-93.69431694222945,3.0 L-2.5,3.0 Z" fill="#BFE0F8" stroke="#4A5E68" stroke-width="0.8" stroke-linejoin="miter"/><path d="M-20.0,-2.5 q-1.1,2.5 0,5.0 M-23.1,-2.5 q-1.1,2.5 0,5.0 M-26.1,-2.5 q-1.1,2.5 0,5.0 M-29.2,-2.5 q-1.1,2.5 0,5.0 M-32.2,-2.5 q-1.1,2.5 0,5.0 M-35.2,-2.5 q-1.1,2.5 0,5.0 M-38.3,-2.5 q-1.1,2.5 0,5.0 M-41.3,-2.5 q-1.1,2.5 0,5.0 M-44.4,-2.5 q-1.1,2.5 0,5.0 M-47.4,-2.5 q-1.1,2.5 0,5.0 M-50.5,-2.5 q-1.1,2.5 0,5.0 M-53.5,-2.5 q-1.1,2.5 0,5.0 M-56.6,-2.5 q-1.1,2.5 0,5.0 M-59.6,-2.5 q-1.1,2.5 0,5.0 M-62.7,-2.5 q-1.1,2.5 0,5.0 M-65.7,-2.5 q-1.1,2.5 0,5.0 M-68.8,-2.5 q-1.1,2.5 0,5.0 M-71.8,-2.5 q-1.1,2.5 0,5.0" fill="none" stroke="#4A5E68" stroke-width="0.9" opacity="0.8"/><ellipse cx="-1.6" cy="0" rx="1.4" ry="6.2" fill="#BFE0F8" stroke="#4A5E68" stroke-width="0.8"/></g><g transform="translate(866.0,526.7) rotate(-10.57) scale(1.000,1.000)"><path d="M-2.5,-3.0 L-93.1660693316206,-3.0 L-104.1660693316206,0 L-93.1660693316206,3.0 L-2.5,3.0 Z" fill="#BFE0F8" stroke="#4A5E68" stroke-width="0.8" stroke-linejoin="miter"/><path d="M-20.0,-2.5 q-1.1,2.5 0,5.0 M-23.1,-2.5 q-1.1,2.5 0,5.0 M-26.1,-2.5 q-1.1,2.5 0,5.0 M-29.2,-2.5 q-1.1,2.5 0,5.0 M-32.2,-2.5 q-1.1,2.5 0,5.0 M-35.2,-2.5 q-1.1,2.5 0,5.0 M-38.3,-2.5 q-1.1,2.5 0,5.0 M-41.3,-2.5 q-1.1,2.5 0,5.0 M-44.4,-2.5 q-1.1,2.5 0,5.0 M-47.4,-2.5 q-1.1,2.5 0,5.0 M-50.5,-2.5 q-1.1,2.5 0,5.0 M-53.5,-2.5 q-1.1,2.5 0,5.0 M-56.6,-2.5 q-1.1,2.5 0,5.0 M-59.6,-2.5 q-1.1,2.5 0,5.0 M-62.7,-2.5 q-1.1,2.5 0,5.0 M-65.7,-2.5 q-1.1,2.5 0,5.0 M-68.8,-2.5 q-1.1,2.5 0,5.0 M-71.8,-2.5 q-1.1,2.5 0,5.0" fill="none" stroke="#4A5E68" stroke-width="0.9" opacity="0.8"/><ellipse cx="-1.6" cy="0" rx="1.4" ry="6.2" fill="#BFE0F8" stroke="#4A5E68" stroke-width="0.8"/></g><g transform="translate(877.3,655.1) rotate(-10.62) scale(1.000,1.000)"><path d="M-2.5,-3.0 L-93.69431694222945,-3.0 L-104.69431694222945,0 L-93.69431694222945,3.0 L-2.5,3.0 Z" fill="#BFE0F8" stroke="#4A5E68" stroke-width="0.8" stroke-linejoin="miter"/><path d="M-20.0,-2.5 q-1.1,2.5 0,5.0 M-23.1,-2.5 q-1.1,2.5 0,5.0 M-26.1,-2.5 q-1.1,2.5 0,5.0 M-29.2,-2.5 q-1.1,2.5 0,5.0 M-32.2,-2.5 q-1.1,2.5 0,5.0 M-35.2,-2.5 q-1.1,2.5 0,5.0 M-38.3,-2.5 q-1.1,2.5 0,5.0 M-41.3,-2.5 q-1.1,2.5 0,5.0 M-44.4,-2.5 q-1.1,2.5 0,5.0 M-47.4,-2.5 q-1.1,2.5 0,5.0 M-50.5,-2.5 q-1.1,2.5 0,5.0 M-53.5,-2.5 q-1.1,2.5 0,5.0 M-56.6,-2.5 q-1.1,2.5 0,5.0 M-59.6,-2.5 q-1.1,2.5 0,5.0 M-62.7,-2.5 q-1.1,2.5 0,5.0 M-65.7,-2.5 q-1.1,2.5 0,5.0 M-68.8,-2.5 q-1.1,2.5 0,5.0 M-71.8,-2.5 q-1.1,2.5 0,5.0" fill="none" stroke="#4A5E68" stroke-width="0.9" opacity="0.8"/><ellipse cx="-1.6" cy="0" rx="1.4" ry="6.2" fill="#BFE0F8" stroke="#4A5E68" stroke-width="0.8"/></g><g transform="translate(866.0,726.2) rotate(-10.78) scale(1.000,1.000)"><path d="M-2.5,-3.0 L-93.24015541047507,-3.0 L-104.24015541047507,0 L-93.24015541047507,3.0 L-2.5,3.0 Z" fill="#BFE0F8" stroke="#4A5E68" stroke-width="0.8" stroke-linejoin="miter"/><path d="M-20.0,-2.5 q-1.1,2.5 0,5.0 M-23.1,-2.5 q-1.1,2.5 0,5.0 M-26.1,-2.5 q-1.1,2.5 0,5.0 M-29.2,-2.5 q-1.1,2.5 0,5.0 M-32.2,-2.5 q-1.1,2.5 0,5.0 M-35.2,-2.5 q-1.1,2.5 0,5.0 M-38.3,-2.5 q-1.1,2.5 0,5.0 M-41.3,-2.5 q-1.1,2.5 0,5.0 M-44.4,-2.5 q-1.1,2.5 0,5.0 M-47.4,-2.5 q-1.1,2.5 0,5.0 M-50.5,-2.5 q-1.1,2.5 0,5.0 M-53.5,-2.5 q-1.1,2.5 0,5.0 M-56.6,-2.5 q-1.1,2.5 0,5.0 M-59.6,-2.5 q-1.1,2.5 0,5.0 M-62.7,-2.5 q-1.1,2.5 0,5.0 M-65.7,-2.5 q-1.1,2.5 0,5.0 M-68.8,-2.5 q-1.1,2.5 0,5.0 M-71.8,-2.5 q-1.1,2.5 0,5.0" fill="none" stroke="#4A5E68" stroke-width="0.9" opacity="0.8"/><ellipse cx="-1.6" cy="0" rx="1.4" ry="6.2" fill="#BFE0F8" stroke="#4A5E68" stroke-width="0.8"/></g></g><g clip-path="url(#k19)"><rect x="680.0" y="760.0" width="260.0" height="260.0" fill="#fff"/><rect x="680.0" y="760.0" width="127.2" height="260.0" fill="#FCFDF8"/><line x1="807.5" y1="760.0" x2="807.5" y2="1010.0" stroke="#3C4E4E" stroke-width="2.6"/><polygon points="809.4,740.0 834.6,740.0 852.2,919.0 834.4,919.6 830.1,868.4 809.4,868.4" fill="#EC8B69"/><g clip-path="url(#b20)"><g fill="none" stroke="#E5531C" stroke-width="2.0" transform="rotate(-5 848.0 790.0)"><ellipse cx="848.0" cy="790.0" rx="11.0" ry="43.9"/><ellipse cx="848.0" cy="790.0" rx="24.4" ry="83.0"/><ellipse cx="848.0" cy="790.0" rx="37.8" ry="109.8"/><ellipse cx="848.0" cy="790.0" rx="52.5" ry="134.2"/><ellipse cx="848.0" cy="790.0" rx="69.5" ry="156.2"/><ellipse cx="848.0" cy="790.0" rx="89.1" ry="178.1"/><ellipse cx="848.0" cy="790.0" rx="112.2" ry="200.1"/><ellipse cx="848.0" cy="790.0" rx="140.3" ry="222.0"/><ellipse cx="848.0" cy="790.0" rx="173.2" ry="244.0"/></g></g><polygon points="809.4,740.0 834.6,740.0 852.2,919.0 834.4,919.6 830.1,868.4 809.4,868.4" fill="none" stroke="#3C4E4E" stroke-width="2.4" stroke-linejoin="miter"/><polygon points="809.4,875.2 829.1,875.2 843.5,1010.0 809.4,1010.0" fill="#EC8B69"/><g clip-path="url(#b21)"><g fill="none" stroke="#E5531C" stroke-width="2.0" transform="rotate(-5 846.0 1010.0)"><ellipse cx="846.0" cy="1010.0" rx="11.0" ry="43.9"/><ellipse cx="846.0" cy="1010.0" rx="24.4" ry="83.0"/><ellipse cx="846.0" cy="1010.0" rx="37.8" ry="109.8"/><ellipse cx="846.0" cy="1010.0" rx="52.5" ry="134.2"/><ellipse cx="846.0" cy="1010.0" rx="69.5" ry="156.2"/><ellipse cx="846.0" cy="1010.0" rx="89.1" ry="178.1"/><ellipse cx="846.0" cy="1010.0" rx="112.2" ry="200.1"/><ellipse cx="846.0" cy="1010.0" rx="140.3" ry="222.0"/><ellipse cx="846.0" cy="1010.0" rx="173.2" ry="244.0"/></g></g><polygon points="809.4,875.2 829.1,875.2 843.5,1010.0 809.4,1010.0" fill="none" stroke="#3C4E4E" stroke-width="2.4" stroke-linejoin="miter"/><g transform="translate(849.0,839.1) rotate(-8.94) scale(1.220,1.000)"><path d="M-2.5,-3.0 L-93.96368115558218,-3.0 L-104.96368115558218,0 L-93.96368115558218,3.0 L-2.5,3.0 Z" fill="#BFE0F8" stroke="#4A5E68" stroke-width="0.8" stroke-linejoin="miter"/><path d="M-20.0,-2.5 q-1.1,2.5 0,5.0 M-23.1,-2.5 q-1.1,2.5 0,5.0 M-26.1,-2.5 q-1.1,2.5 0,5.0 M-29.2,-2.5 q-1.1,2.5 0,5.0 M-32.2,-2.5 q-1.1,2.5 0,5.0 M-35.2,-2.5 q-1.1,2.5 0,5.0 M-38.3,-2.5 q-1.1,2.5 0,5.0 M-41.3,-2.5 q-1.1,2.5 0,5.0 M-44.4,-2.5 q-1.1,2.5 0,5.0 M-47.4,-2.5 q-1.1,2.5 0,5.0 M-50.5,-2.5 q-1.1,2.5 0,5.0 M-53.5,-2.5 q-1.1,2.5 0,5.0 M-56.6,-2.5 q-1.1,2.5 0,5.0 M-59.6,-2.5 q-1.1,2.5 0,5.0 M-62.7,-2.5 q-1.1,2.5 0,5.0 M-65.7,-2.5 q-1.1,2.5 0,5.0 M-68.8,-2.5 q-1.1,2.5 0,5.0 M-71.8,-2.5 q-1.1,2.5 0,5.0" fill="none" stroke="#4A5E68" stroke-width="0.9" opacity="0.8"/><ellipse cx="-1.6" cy="0" rx="1.4" ry="6.2" fill="#BFE0F8" stroke="#4A5E68" stroke-width="0.8"/></g><g transform="translate(834.8,910.9) rotate(-8.90) scale(1.220,1.000)"><path d="M-2.5,-3.0 L-93.95097459286634,-3.0 L-104.95097459286634,0 L-93.95097459286634,3.0 L-2.5,3.0 Z" fill="#BFE0F8" stroke="#4A5E68" stroke-width="0.8" stroke-linejoin="miter"/><path d="M-20.0,-2.5 q-1.1,2.5 0,5.0 M-23.1,-2.5 q-1.1,2.5 0,5.0 M-26.1,-2.5 q-1.1,2.5 0,5.0 M-29.2,-2.5 q-1.1,2.5 0,5.0 M-32.2,-2.5 q-1.1,2.5 0,5.0 M-35.2,-2.5 q-1.1,2.5 0,5.0 M-38.3,-2.5 q-1.1,2.5 0,5.0 M-41.3,-2.5 q-1.1,2.5 0,5.0 M-44.4,-2.5 q-1.1,2.5 0,5.0 M-47.4,-2.5 q-1.1,2.5 0,5.0 M-50.5,-2.5 q-1.1,2.5 0,5.0 M-53.5,-2.5 q-1.1,2.5 0,5.0 M-56.6,-2.5 q-1.1,2.5 0,5.0 M-59.6,-2.5 q-1.1,2.5 0,5.0 M-62.7,-2.5 q-1.1,2.5 0,5.0 M-65.7,-2.5 q-1.1,2.5 0,5.0 M-68.8,-2.5 q-1.1,2.5 0,5.0 M-71.8,-2.5 q-1.1,2.5 0,5.0" fill="none" stroke="#4A5E68" stroke-width="0.9" opacity="0.8"/><ellipse cx="-1.6" cy="0" rx="1.4" ry="6.2" fill="#BFE0F8" stroke="#4A5E68" stroke-width="0.8"/></g></g><circle cx="807.9" cy="885.4" r="113.8" fill="none" stroke="#A6A6A6" stroke-width="8.0"/>
<g clip-path="url(#r22)"><rect x="1060.8" y="360.0" width="99.5" height="643.4" fill="#FCFDF8"/><line x1="1060.8" y1="360.0" x2="1060.8" y2="1003.4" stroke="#3C4E4E" stroke-width="2"/><line x1="1160.0" y1="360.0" x2="1160.0" y2="1003.4" stroke="#3C4E4E" stroke-width="2"/><polygon points="1161.6,340.0 1199.8,340.0 1199.8,577.3 1178.2,577.3 1178.2,543.0 1161.6,543.0" fill="#EC8B69"/><g clip-path="url(#b23)"><g fill="none" stroke="#E5531C" stroke-width="2.0"><ellipse cx="1201.8" cy="440.0" rx="9.0" ry="37.8"/><ellipse cx="1201.8" cy="440.0" rx="20.0" ry="71.4"/><ellipse cx="1201.8" cy="440.0" rx="31.0" ry="94.5"/><ellipse cx="1201.8" cy="440.0" rx="43.0" ry="115.5"/><ellipse cx="1201.8" cy="440.0" rx="57.0" ry="134.4"/><ellipse cx="1201.8" cy="440.0" rx="73.0" ry="153.3"/><ellipse cx="1201.8" cy="440.0" rx="92.0" ry="172.2"/><ellipse cx="1201.8" cy="440.0" rx="115.0" ry="191.1"/><ellipse cx="1201.8" cy="440.0" rx="142.0" ry="210.0"/><ellipse cx="1201.8" cy="440.0" rx="175.0" ry="231.0"/></g></g><polygon points="1161.6,340.0 1199.8,340.0 1199.8,577.3 1178.2,577.3 1178.2,543.0 1161.6,543.0" fill="none" stroke="#3C4E4E" stroke-width="2.0" stroke-linejoin="miter"/><polygon points="1161.6,552.2 1176.2,552.2 1176.4,573.2 1177.2,578.2 1179.4,584.8 1184.0,594.9 1199.8,621.2 1199.8,796.3 1178.2,796.3 1178.2,762.0 1161.6,762.0" fill="#EC8B69"/><g clip-path="url(#b24)"><g fill="none" stroke="#E5531C" stroke-width="2.0"><ellipse cx="1201.8" cy="665.0" rx="9.0" ry="37.8"/><ellipse cx="1201.8" cy="665.0" rx="20.0" ry="71.4"/><ellipse cx="1201.8" cy="665.0" rx="31.0" ry="94.5"/><ellipse cx="1201.8" cy="665.0" rx="43.0" ry="115.5"/><ellipse cx="1201.8" cy="665.0" rx="57.0" ry="134.4"/><ellipse cx="1201.8" cy="665.0" rx="73.0" ry="153.3"/><ellipse cx="1201.8" cy="665.0" rx="92.0" ry="172.2"/><ellipse cx="1201.8" cy="665.0" rx="115.0" ry="191.1"/><ellipse cx="1201.8" cy="665.0" rx="142.0" ry="210.0"/><ellipse cx="1201.8" cy="665.0" rx="175.0" ry="231.0"/></g></g><polygon points="1161.6,552.2 1176.2,552.2 1176.4,573.2 1177.2,578.2 1179.4,584.8 1184.0,594.9 1199.8,621.2 1199.8,796.3 1178.2,796.3 1178.2,762.0 1161.6,762.0" fill="none" stroke="#3C4E4E" stroke-width="2.0" stroke-linejoin="miter"/><polygon points="1161.6,768.9 1176.2,768.9 1176.4,789.9 1177.2,794.9 1179.4,801.5 1184.0,811.6 1199.8,837.9 1199.8,1014.5 1178.2,1014.5 1178.2,980.2 1161.6,980.2" fill="#EC8B69"/><g clip-path="url(#b25)"><g fill="none" stroke="#E5531C" stroke-width="2.0"><ellipse cx="1201.8" cy="885.0" rx="9.0" ry="37.8"/><ellipse cx="1201.8" cy="885.0" rx="20.0" ry="71.4"/><ellipse cx="1201.8" cy="885.0" rx="31.0" ry="94.5"/><ellipse cx="1201.8" cy="885.0" rx="43.0" ry="115.5"/><ellipse cx="1201.8" cy="885.0" rx="57.0" ry="134.4"/><ellipse cx="1201.8" cy="885.0" rx="73.0" ry="153.3"/><ellipse cx="1201.8" cy="885.0" rx="92.0" ry="172.2"/><ellipse cx="1201.8" cy="885.0" rx="115.0" ry="191.1"/><ellipse cx="1201.8" cy="885.0" rx="142.0" ry="210.0"/><ellipse cx="1201.8" cy="885.0" rx="175.0" ry="231.0"/></g></g><polygon points="1161.6,768.9 1176.2,768.9 1176.4,789.9 1177.2,794.9 1179.4,801.5 1184.0,811.6 1199.8,837.9 1199.8,1014.5 1178.2,1014.5 1178.2,980.2 1161.6,980.2" fill="none" stroke="#3C4E4E" stroke-width="2.0" stroke-linejoin="miter"/><polygon points="1161.6,986.3 1176.2,986.3 1176.4,1007.3 1177.2,1012.3 1179.4,1018.9 1184.0,1029.0 1199.8,1055.3 1199.8,1023.4 1161.6,1023.4" fill="#EC8B69"/><g clip-path="url(#b26)"><g fill="none" stroke="#E5531C" stroke-width="2.0"><ellipse cx="1201.8" cy="1110.0" rx="9.0" ry="37.8"/><ellipse cx="1201.8" cy="1110.0" rx="20.0" ry="71.4"/><ellipse cx="1201.8" cy="1110.0" rx="31.0" ry="94.5"/><ellipse cx="1201.8" cy="1110.0" rx="43.0" ry="115.5"/><ellipse cx="1201.8" cy="1110.0" rx="57.0" ry="134.4"/><ellipse cx="1201.8" cy="1110.0" rx="73.0" ry="153.3"/><ellipse cx="1201.8" cy="1110.0" rx="92.0" ry="172.2"/><ellipse cx="1201.8" cy="1110.0" rx="115.0" ry="191.1"/><ellipse cx="1201.8" cy="1110.0" rx="142.0" ry="210.0"/><ellipse cx="1201.8" cy="1110.0" rx="175.0" ry="231.0"/></g></g><polygon points="1161.6,986.3 1176.2,986.3 1176.4,1007.3 1177.2,1012.3 1179.4,1018.9 1184.0,1029.0 1199.8,1055.3 1199.8,1023.4 1161.6,1023.4" fill="none" stroke="#3C4E4E" stroke-width="2.0" stroke-linejoin="miter"/><g transform="translate(1181.2,587.3) rotate(-24.97) scale(1.000,1.000)"><path d="M-2.5,-3.0 L-92.03305294904163,-3.0 L-103.03305294904163,0 L-92.03305294904163,3.0 L-2.5,3.0 Z" fill="#BFE0F8" stroke="#4A5E68" stroke-width="0.8" stroke-linejoin="miter"/><path d="M-20.0,-2.5 q-1.1,2.5 0,5.0 M-23.1,-2.5 q-1.1,2.5 0,5.0 M-26.1,-2.5 q-1.1,2.5 0,5.0 M-29.2,-2.5 q-1.1,2.5 0,5.0 M-32.2,-2.5 q-1.1,2.5 0,5.0 M-35.2,-2.5 q-1.1,2.5 0,5.0 M-38.3,-2.5 q-1.1,2.5 0,5.0 M-41.3,-2.5 q-1.1,2.5 0,5.0 M-44.4,-2.5 q-1.1,2.5 0,5.0 M-47.4,-2.5 q-1.1,2.5 0,5.0 M-50.5,-2.5 q-1.1,2.5 0,5.0 M-53.5,-2.5 q-1.1,2.5 0,5.0 M-56.6,-2.5 q-1.1,2.5 0,5.0 M-59.6,-2.5 q-1.1,2.5 0,5.0 M-62.7,-2.5 q-1.1,2.5 0,5.0 M-65.7,-2.5 q-1.1,2.5 0,5.0 M-68.8,-2.5 q-1.1,2.5 0,5.0 M-71.8,-2.5 q-1.1,2.5 0,5.0" fill="none" stroke="#4A5E68" stroke-width="0.9" opacity="0.8"/><ellipse cx="-1.6" cy="0" rx="1.4" ry="6.2" fill="#BFE0F8" stroke="#4A5E68" stroke-width="0.8"/></g><g transform="translate(1200.8,740.1) rotate(0.00) scale(1.000,1.000)"><path d="M-2.5,-3.0 L-93.0,-3.0 L-104.0,0 L-93.0,3.0 L-2.5,3.0 Z" fill="#BFE0F8" stroke="#4A5E68" stroke-width="0.8" stroke-linejoin="miter"/><path d="M-20.0,-2.5 q-1.1,2.5 0,5.0 M-23.1,-2.5 q-1.1,2.5 0,5.0 M-26.1,-2.5 q-1.1,2.5 0,5.0 M-29.2,-2.5 q-1.1,2.5 0,5.0 M-32.2,-2.5 q-1.1,2.5 0,5.0 M-35.2,-2.5 q-1.1,2.5 0,5.0 M-38.3,-2.5 q-1.1,2.5 0,5.0 M-41.3,-2.5 q-1.1,2.5 0,5.0 M-44.4,-2.5 q-1.1,2.5 0,5.0 M-47.4,-2.5 q-1.1,2.5 0,5.0 M-50.5,-2.5 q-1.1,2.5 0,5.0 M-53.5,-2.5 q-1.1,2.5 0,5.0 M-56.6,-2.5 q-1.1,2.5 0,5.0 M-59.6,-2.5 q-1.1,2.5 0,5.0 M-62.7,-2.5 q-1.1,2.5 0,5.0 M-65.7,-2.5 q-1.1,2.5 0,5.0 M-68.8,-2.5 q-1.1,2.5 0,5.0 M-71.8,-2.5 q-1.1,2.5 0,5.0" fill="none" stroke="#4A5E68" stroke-width="0.9" opacity="0.8"/><ellipse cx="-1.6" cy="0" rx="1.4" ry="6.2" fill="#BFE0F8" stroke="#4A5E68" stroke-width="0.8"/></g><g transform="translate(1181.2,802.4) rotate(-25.38) scale(1.000,1.000)"><path d="M-2.5,-3.0 L-92.37335246571054,-3.0 L-103.37335246571054,0 L-92.37335246571054,3.0 L-2.5,3.0 Z" fill="#BFE0F8" stroke="#4A5E68" stroke-width="0.8" stroke-linejoin="miter"/><path d="M-20.0,-2.5 q-1.1,2.5 0,5.0 M-23.1,-2.5 q-1.1,2.5 0,5.0 M-26.1,-2.5 q-1.1,2.5 0,5.0 M-29.2,-2.5 q-1.1,2.5 0,5.0 M-32.2,-2.5 q-1.1,2.5 0,5.0 M-35.2,-2.5 q-1.1,2.5 0,5.0 M-38.3,-2.5 q-1.1,2.5 0,5.0 M-41.3,-2.5 q-1.1,2.5 0,5.0 M-44.4,-2.5 q-1.1,2.5 0,5.0 M-47.4,-2.5 q-1.1,2.5 0,5.0 M-50.5,-2.5 q-1.1,2.5 0,5.0 M-53.5,-2.5 q-1.1,2.5 0,5.0 M-56.6,-2.5 q-1.1,2.5 0,5.0 M-59.6,-2.5 q-1.1,2.5 0,5.0 M-62.7,-2.5 q-1.1,2.5 0,5.0 M-65.7,-2.5 q-1.1,2.5 0,5.0 M-68.8,-2.5 q-1.1,2.5 0,5.0 M-71.8,-2.5 q-1.1,2.5 0,5.0" fill="none" stroke="#4A5E68" stroke-width="0.9" opacity="0.8"/><ellipse cx="-1.6" cy="0" rx="1.4" ry="6.2" fill="#BFE0F8" stroke="#4A5E68" stroke-width="0.8"/></g><g transform="translate(1200.8,959.5) rotate(0.00) scale(1.000,1.000)"><path d="M-2.5,-3.0 L-93.6,-3.0 L-104.6,0 L-93.6,3.0 L-2.5,3.0 Z" fill="#BFE0F8" stroke="#4A5E68" stroke-width="0.8" stroke-linejoin="miter"/><path d="M-20.0,-2.5 q-1.1,2.5 0,5.0 M-23.1,-2.5 q-1.1,2.5 0,5.0 M-26.1,-2.5 q-1.1,2.5 0,5.0 M-29.2,-2.5 q-1.1,2.5 0,5.0 M-32.2,-2.5 q-1.1,2.5 0,5.0 M-35.2,-2.5 q-1.1,2.5 0,5.0 M-38.3,-2.5 q-1.1,2.5 0,5.0 M-41.3,-2.5 q-1.1,2.5 0,5.0 M-44.4,-2.5 q-1.1,2.5 0,5.0 M-47.4,-2.5 q-1.1,2.5 0,5.0 M-50.5,-2.5 q-1.1,2.5 0,5.0 M-53.5,-2.5 q-1.1,2.5 0,5.0 M-56.6,-2.5 q-1.1,2.5 0,5.0 M-59.6,-2.5 q-1.1,2.5 0,5.0 M-62.7,-2.5 q-1.1,2.5 0,5.0 M-65.7,-2.5 q-1.1,2.5 0,5.0 M-68.8,-2.5 q-1.1,2.5 0,5.0 M-71.8,-2.5 q-1.1,2.5 0,5.0" fill="none" stroke="#4A5E68" stroke-width="0.9" opacity="0.8"/><ellipse cx="-1.6" cy="0" rx="1.4" ry="6.2" fill="#BFE0F8" stroke="#4A5E68" stroke-width="0.8"/></g></g><g clip-path="url(#k27)"><rect x="1020.0" y="300.0" width="250.0" height="250.0" fill="#fff"/><rect x="1020.0" y="300.0" width="126.0" height="250.0" fill="#FCFDF8"/><line x1="1146.0" y1="300.0" x2="1146.0" y2="550.0" stroke="#3C4E4E" stroke-width="2.0"/><polygon points="1146.9,290.0 1195.1,290.0 1195.1,422.2 1168.1,422.2 1168.1,387.9 1146.9,387.9" fill="#EC8B69"/><g clip-path="url(#b28)"><g fill="none" stroke="#E5531C" stroke-width="2.0"><ellipse cx="1198.1" cy="290.0" rx="11.2" ry="36.0"/><ellipse cx="1198.1" cy="290.0" rx="24.8" ry="68.0"/><ellipse cx="1198.1" cy="290.0" rx="38.4" ry="90.0"/><ellipse cx="1198.1" cy="290.0" rx="53.3" ry="110.0"/><ellipse cx="1198.1" cy="290.0" rx="70.7" ry="128.0"/><ellipse cx="1198.1" cy="290.0" rx="90.5" ry="146.0"/><ellipse cx="1198.1" cy="290.0" rx="114.1" ry="164.0"/><ellipse cx="1198.1" cy="290.0" rx="142.6" ry="182.0"/><ellipse cx="1198.1" cy="290.0" rx="176.1" ry="200.0"/><ellipse cx="1198.1" cy="290.0" rx="217.0" ry="220.0"/></g></g><polygon points="1146.9,290.0 1195.1,290.0 1195.1,422.2 1168.1,422.2 1168.1,387.9 1146.9,387.9" fill="none" stroke="#3C4E4E" stroke-width="2.6" stroke-linejoin="miter"/><polygon points="1146.9,396.8 1165.5,396.8 1165.8,417.8 1166.8,422.8 1169.5,429.4 1175.2,439.5 1195.1,465.8 1195.1,560.0 1146.9,560.0" fill="#EC8B69"/><g clip-path="url(#b29)"><g fill="none" stroke="#E5531C" stroke-width="2.0"><ellipse cx="1198.1" cy="505.0" rx="11.2" ry="36.0"/><ellipse cx="1198.1" cy="505.0" rx="24.8" ry="68.0"/><ellipse cx="1198.1" cy="505.0" rx="38.4" ry="90.0"/><ellipse cx="1198.1" cy="505.0" rx="53.3" ry="110.0"/><ellipse cx="1198.1" cy="505.0" rx="70.7" ry="128.0"/><ellipse cx="1198.1" cy="505.0" rx="90.5" ry="146.0"/><ellipse cx="1198.1" cy="505.0" rx="114.1" ry="164.0"/><ellipse cx="1198.1" cy="505.0" rx="142.6" ry="182.0"/><ellipse cx="1198.1" cy="505.0" rx="176.1" ry="200.0"/><ellipse cx="1198.1" cy="505.0" rx="217.0" ry="220.0"/></g></g><polygon points="1146.9,396.8 1165.5,396.8 1165.8,417.8 1166.8,422.8 1169.5,429.4 1175.2,439.5 1195.1,465.8 1195.1,560.0 1146.9,560.0" fill="none" stroke="#3C4E4E" stroke-width="2.6" stroke-linejoin="miter"/><g transform="translate(1197.3,366.1) rotate(0.00) scale(1.240,1.040)"><path d="M-2.5,-3.0 L-93.35483870967742,-3.0 L-104.35483870967742,0 L-93.35483870967742,3.0 L-2.5,3.0 Z" fill="#BFE0F8" stroke="#4A5E68" stroke-width="0.8" stroke-linejoin="miter"/><path d="M-20.0,-2.5 q-1.1,2.5 0,5.0 M-23.1,-2.5 q-1.1,2.5 0,5.0 M-26.1,-2.5 q-1.1,2.5 0,5.0 M-29.2,-2.5 q-1.1,2.5 0,5.0 M-32.2,-2.5 q-1.1,2.5 0,5.0 M-35.2,-2.5 q-1.1,2.5 0,5.0 M-38.3,-2.5 q-1.1,2.5 0,5.0 M-41.3,-2.5 q-1.1,2.5 0,5.0 M-44.4,-2.5 q-1.1,2.5 0,5.0 M-47.4,-2.5 q-1.1,2.5 0,5.0 M-50.5,-2.5 q-1.1,2.5 0,5.0 M-53.5,-2.5 q-1.1,2.5 0,5.0 M-56.6,-2.5 q-1.1,2.5 0,5.0 M-59.6,-2.5 q-1.1,2.5 0,5.0 M-62.7,-2.5 q-1.1,2.5 0,5.0 M-65.7,-2.5 q-1.1,2.5 0,5.0 M-68.8,-2.5 q-1.1,2.5 0,5.0 M-71.8,-2.5 q-1.1,2.5 0,5.0" fill="none" stroke="#4A5E68" stroke-width="0.9" opacity="0.8"/><ellipse cx="-1.6" cy="0" rx="1.4" ry="6.2" fill="#BFE0F8" stroke="#4A5E68" stroke-width="0.8"/></g><g transform="translate(1173.3,432.5) rotate(-20.58) scale(1.200,1.040)"><path d="M-2.5,-3.0 L-93.05934471359215,-3.0 L-104.05934471359215,0 L-93.05934471359215,3.0 L-2.5,3.0 Z" fill="#BFE0F8" stroke="#4A5E68" stroke-width="0.8" stroke-linejoin="miter"/><path d="M-20.0,-2.5 q-1.1,2.5 0,5.0 M-23.1,-2.5 q-1.1,2.5 0,5.0 M-26.1,-2.5 q-1.1,2.5 0,5.0 M-29.2,-2.5 q-1.1,2.5 0,5.0 M-32.2,-2.5 q-1.1,2.5 0,5.0 M-35.2,-2.5 q-1.1,2.5 0,5.0 M-38.3,-2.5 q-1.1,2.5 0,5.0 M-41.3,-2.5 q-1.1,2.5 0,5.0 M-44.4,-2.5 q-1.1,2.5 0,5.0 M-47.4,-2.5 q-1.1,2.5 0,5.0 M-50.5,-2.5 q-1.1,2.5 0,5.0 M-53.5,-2.5 q-1.1,2.5 0,5.0 M-56.6,-2.5 q-1.1,2.5 0,5.0 M-59.6,-2.5 q-1.1,2.5 0,5.0 M-62.7,-2.5 q-1.1,2.5 0,5.0 M-65.7,-2.5 q-1.1,2.5 0,5.0 M-68.8,-2.5 q-1.1,2.5 0,5.0 M-71.8,-2.5 q-1.1,2.5 0,5.0" fill="none" stroke="#4A5E68" stroke-width="0.9" opacity="0.8"/><ellipse cx="-1.6" cy="0" rx="1.4" ry="6.2" fill="#BFE0F8" stroke="#4A5E68" stroke-width="0.8"/></g></g><circle cx="1142.2" cy="425.0" r="113.8" fill="none" stroke="#A6A6A6" stroke-width="8.0"/>
<g clip-path="url(#r30)"><rect x="1357.8" y="345.5" width="93.0" height="663.7" fill="#FCFDF8"/><line x1="1357.8" y1="345.5" x2="1357.8" y2="1009.2" stroke="#3C4E4E" stroke-width="2"/><line x1="1451.0" y1="345.5" x2="1451.0" y2="1009.2" stroke="#3C4E4E" stroke-width="2"/><polygon points="1453.0,325.5 1489.7,325.5 1489.7,556.4 1485.5,556.4 1453.0,537.3" fill="#EC8B69"/><g clip-path="url(#b31)"><g fill="none" stroke="#E5531C" stroke-width="2.0"><ellipse cx="1491.7" cy="455.0" rx="9.0" ry="39.6"/><ellipse cx="1491.7" cy="455.0" rx="20.0" ry="74.8"/><ellipse cx="1491.7" cy="455.0" rx="31.0" ry="99.0"/><ellipse cx="1491.7" cy="455.0" rx="43.0" ry="121.0"/><ellipse cx="1491.7" cy="455.0" rx="57.0" ry="140.8"/><ellipse cx="1491.7" cy="455.0" rx="73.0" ry="160.6"/><ellipse cx="1491.7" cy="455.0" rx="92.0" ry="180.4"/><ellipse cx="1491.7" cy="455.0" rx="115.0" ry="200.2"/><ellipse cx="1491.7" cy="455.0" rx="142.0" ry="220.0"/><ellipse cx="1491.7" cy="455.0" rx="175.0" ry="242.0"/></g></g><polygon points="1453.0,325.5 1489.7,325.5 1489.7,556.4 1485.5,556.4 1453.0,537.3" fill="none" stroke="#3C4E4E" stroke-width="2.0" stroke-linejoin="miter"/><polygon points="1453.0,552.8 1459.1,552.8 1489.7,571.9 1489.7,787.7 1485.5,787.7 1453.0,768.6" fill="#EC8B69"/><g clip-path="url(#b32)"><g fill="none" stroke="#E5531C" stroke-width="2.0"><ellipse cx="1491.7" cy="680.0" rx="9.0" ry="39.6"/><ellipse cx="1491.7" cy="680.0" rx="20.0" ry="74.8"/><ellipse cx="1491.7" cy="680.0" rx="31.0" ry="99.0"/><ellipse cx="1491.7" cy="680.0" rx="43.0" ry="121.0"/><ellipse cx="1491.7" cy="680.0" rx="57.0" ry="140.8"/><ellipse cx="1491.7" cy="680.0" rx="73.0" ry="160.6"/><ellipse cx="1491.7" cy="680.0" rx="92.0" ry="180.4"/><ellipse cx="1491.7" cy="680.0" rx="115.0" ry="200.2"/><ellipse cx="1491.7" cy="680.0" rx="142.0" ry="220.0"/><ellipse cx="1491.7" cy="680.0" rx="175.0" ry="242.0"/></g></g><polygon points="1453.0,552.8 1459.1,552.8 1489.7,571.9 1489.7,787.7 1485.5,787.7 1453.0,768.6" fill="none" stroke="#3C4E4E" stroke-width="2.0" stroke-linejoin="miter"/><polygon points="1453.0,784.1 1459.1,784.1 1489.7,803.2 1489.7,1014.7 1485.5,1014.7 1453.0,995.6" fill="#EC8B69"/><g clip-path="url(#b33)"><g fill="none" stroke="#E5531C" stroke-width="2.0"><ellipse cx="1491.7" cy="900.0" rx="9.0" ry="39.6"/><ellipse cx="1491.7" cy="900.0" rx="20.0" ry="74.8"/><ellipse cx="1491.7" cy="900.0" rx="31.0" ry="99.0"/><ellipse cx="1491.7" cy="900.0" rx="43.0" ry="121.0"/><ellipse cx="1491.7" cy="900.0" rx="57.0" ry="140.8"/><ellipse cx="1491.7" cy="900.0" rx="73.0" ry="160.6"/><ellipse cx="1491.7" cy="900.0" rx="92.0" ry="180.4"/><ellipse cx="1491.7" cy="900.0" rx="115.0" ry="200.2"/><ellipse cx="1491.7" cy="900.0" rx="142.0" ry="220.0"/><ellipse cx="1491.7" cy="900.0" rx="175.0" ry="242.0"/></g></g><polygon points="1453.0,784.1 1459.1,784.1 1489.7,803.2 1489.7,1014.7 1485.5,1014.7 1453.0,995.6" fill="none" stroke="#3C4E4E" stroke-width="2.0" stroke-linejoin="miter"/><polygon points="1453.0,1011.1 1459.1,1011.1 1489.7,1030.2 1489.7,1039.2 1453.0,1039.2" fill="#EC8B69"/><g clip-path="url(#b34)"><g fill="none" stroke="#E5531C" stroke-width="2.0"><ellipse cx="1491.7" cy="1130.0" rx="9.0" ry="39.6"/><ellipse cx="1491.7" cy="1130.0" rx="20.0" ry="74.8"/><ellipse cx="1491.7" cy="1130.0" rx="31.0" ry="99.0"/><ellipse cx="1491.7" cy="1130.0" rx="43.0" ry="121.0"/><ellipse cx="1491.7" cy="1130.0" rx="57.0" ry="140.8"/><ellipse cx="1491.7" cy="1130.0" rx="73.0" ry="160.6"/><ellipse cx="1491.7" cy="1130.0" rx="92.0" ry="180.4"/><ellipse cx="1491.7" cy="1130.0" rx="115.0" ry="200.2"/><ellipse cx="1491.7" cy="1130.0" rx="142.0" ry="220.0"/><ellipse cx="1491.7" cy="1130.0" rx="175.0" ry="242.0"/></g></g><polygon points="1453.0,1011.1 1459.1,1011.1 1489.7,1030.2 1489.7,1039.2 1453.0,1039.2" fill="none" stroke="#3C4E4E" stroke-width="2.0" stroke-linejoin="miter"/><g transform="translate(1494.6,382.7) rotate(0.00) scale(1.000,1.000)"><path d="M-2.5,-3.0 L-94.3,-3.0 L-105.3,0 L-94.3,3.0 L-2.5,3.0 Z" fill="#BFE0F8" stroke="#4A5E68" stroke-width="0.8" stroke-linejoin="miter"/><path d="M-20.0,-2.5 q-1.1,2.5 0,5.0 M-23.1,-2.5 q-1.1,2.5 0,5.0 M-26.1,-2.5 q-1.1,2.5 0,5.0 M-29.2,-2.5 q-1.1,2.5 0,5.0 M-32.2,-2.5 q-1.1,2.5 0,5.0 M-35.2,-2.5 q-1.1,2.5 0,5.0 M-38.3,-2.5 q-1.1,2.5 0,5.0 M-41.3,-2.5 q-1.1,2.5 0,5.0 M-44.4,-2.5 q-1.1,2.5 0,5.0 M-47.4,-2.5 q-1.1,2.5 0,5.0 M-50.5,-2.5 q-1.1,2.5 0,5.0 M-53.5,-2.5 q-1.1,2.5 0,5.0 M-56.6,-2.5 q-1.1,2.5 0,5.0 M-59.6,-2.5 q-1.1,2.5 0,5.0 M-62.7,-2.5 q-1.1,2.5 0,5.0 M-65.7,-2.5 q-1.1,2.5 0,5.0 M-68.8,-2.5 q-1.1,2.5 0,5.0 M-71.8,-2.5 q-1.1,2.5 0,5.0" fill="none" stroke="#4A5E68" stroke-width="0.9" opacity="0.8"/><ellipse cx="-1.6" cy="0" rx="1.4" ry="6.2" fill="#BFE0F8" stroke="#4A5E68" stroke-width="0.8"/></g><g transform="translate(1492.8,494.0) rotate(0.00) scale(1.000,1.000)"><path d="M-2.5,-3.0 L-94.3,-3.0 L-105.3,0 L-94.3,3.0 L-2.5,3.0 Z" fill="#BFE0F8" stroke="#4A5E68" stroke-width="0.8" stroke-linejoin="miter"/><path d="M-20.0,-2.5 q-1.1,2.5 0,5.0 M-23.1,-2.5 q-1.1,2.5 0,5.0 M-26.1,-2.5 q-1.1,2.5 0,5.0 M-29.2,-2.5 q-1.1,2.5 0,5.0 M-32.2,-2.5 q-1.1,2.5 0,5.0 M-35.2,-2.5 q-1.1,2.5 0,5.0 M-38.3,-2.5 q-1.1,2.5 0,5.0 M-41.3,-2.5 q-1.1,2.5 0,5.0 M-44.4,-2.5 q-1.1,2.5 0,5.0 M-47.4,-2.5 q-1.1,2.5 0,5.0 M-50.5,-2.5 q-1.1,2.5 0,5.0 M-53.5,-2.5 q-1.1,2.5 0,5.0 M-56.6,-2.5 q-1.1,2.5 0,5.0 M-59.6,-2.5 q-1.1,2.5 0,5.0 M-62.7,-2.5 q-1.1,2.5 0,5.0 M-65.7,-2.5 q-1.1,2.5 0,5.0 M-68.8,-2.5 q-1.1,2.5 0,5.0 M-71.8,-2.5 q-1.1,2.5 0,5.0" fill="none" stroke="#4A5E68" stroke-width="0.9" opacity="0.8"/><ellipse cx="-1.6" cy="0" rx="1.4" ry="6.2" fill="#BFE0F8" stroke="#4A5E68" stroke-width="0.8"/></g><g transform="translate(1493.0,613.7) rotate(0.00) scale(1.000,1.000)"><path d="M-2.5,-3.0 L-94.3,-3.0 L-105.3,0 L-94.3,3.0 L-2.5,3.0 Z" fill="#BFE0F8" stroke="#4A5E68" stroke-width="0.8" stroke-linejoin="miter"/><path d="M-20.0,-2.5 q-1.1,2.5 0,5.0 M-23.1,-2.5 q-1.1,2.5 0,5.0 M-26.1,-2.5 q-1.1,2.5 0,5.0 M-29.2,-2.5 q-1.1,2.5 0,5.0 M-32.2,-2.5 q-1.1,2.5 0,5.0 M-35.2,-2.5 q-1.1,2.5 0,5.0 M-38.3,-2.5 q-1.1,2.5 0,5.0 M-41.3,-2.5 q-1.1,2.5 0,5.0 M-44.4,-2.5 q-1.1,2.5 0,5.0 M-47.4,-2.5 q-1.1,2.5 0,5.0 M-50.5,-2.5 q-1.1,2.5 0,5.0 M-53.5,-2.5 q-1.1,2.5 0,5.0 M-56.6,-2.5 q-1.1,2.5 0,5.0 M-59.6,-2.5 q-1.1,2.5 0,5.0 M-62.7,-2.5 q-1.1,2.5 0,5.0 M-65.7,-2.5 q-1.1,2.5 0,5.0 M-68.8,-2.5 q-1.1,2.5 0,5.0 M-71.8,-2.5 q-1.1,2.5 0,5.0" fill="none" stroke="#4A5E68" stroke-width="0.9" opacity="0.8"/><ellipse cx="-1.6" cy="0" rx="1.4" ry="6.2" fill="#BFE0F8" stroke="#4A5E68" stroke-width="0.8"/></g><g transform="translate(1492.6,725.5) rotate(0.00) scale(1.000,1.000)"><path d="M-2.5,-3.0 L-94.3,-3.0 L-105.3,0 L-94.3,3.0 L-2.5,3.0 Z" fill="#BFE0F8" stroke="#4A5E68" stroke-width="0.8" stroke-linejoin="miter"/><path d="M-20.0,-2.5 q-1.1,2.5 0,5.0 M-23.1,-2.5 q-1.1,2.5 0,5.0 M-26.1,-2.5 q-1.1,2.5 0,5.0 M-29.2,-2.5 q-1.1,2.5 0,5.0 M-32.2,-2.5 q-1.1,2.5 0,5.0 M-35.2,-2.5 q-1.1,2.5 0,5.0 M-38.3,-2.5 q-1.1,2.5 0,5.0 M-41.3,-2.5 q-1.1,2.5 0,5.0 M-44.4,-2.5 q-1.1,2.5 0,5.0 M-47.4,-2.5 q-1.1,2.5 0,5.0 M-50.5,-2.5 q-1.1,2.5 0,5.0 M-53.5,-2.5 q-1.1,2.5 0,5.0 M-56.6,-2.5 q-1.1,2.5 0,5.0 M-59.6,-2.5 q-1.1,2.5 0,5.0 M-62.7,-2.5 q-1.1,2.5 0,5.0 M-65.7,-2.5 q-1.1,2.5 0,5.0 M-68.8,-2.5 q-1.1,2.5 0,5.0 M-71.8,-2.5 q-1.1,2.5 0,5.0" fill="none" stroke="#4A5E68" stroke-width="0.9" opacity="0.8"/><ellipse cx="-1.6" cy="0" rx="1.4" ry="6.2" fill="#BFE0F8" stroke="#4A5E68" stroke-width="0.8"/></g><g transform="translate(1493.4,845.9) rotate(0.00) scale(1.000,1.000)"><path d="M-2.5,-3.0 L-94.3,-3.0 L-105.3,0 L-94.3,3.0 L-2.5,3.0 Z" fill="#BFE0F8" stroke="#4A5E68" stroke-width="0.8" stroke-linejoin="miter"/><path d="M-20.0,-2.5 q-1.1,2.5 0,5.0 M-23.1,-2.5 q-1.1,2.5 0,5.0 M-26.1,-2.5 q-1.1,2.5 0,5.0 M-29.2,-2.5 q-1.1,2.5 0,5.0 M-32.2,-2.5 q-1.1,2.5 0,5.0 M-35.2,-2.5 q-1.1,2.5 0,5.0 M-38.3,-2.5 q-1.1,2.5 0,5.0 M-41.3,-2.5 q-1.1,2.5 0,5.0 M-44.4,-2.5 q-1.1,2.5 0,5.0 M-47.4,-2.5 q-1.1,2.5 0,5.0 M-50.5,-2.5 q-1.1,2.5 0,5.0 M-53.5,-2.5 q-1.1,2.5 0,5.0 M-56.6,-2.5 q-1.1,2.5 0,5.0 M-59.6,-2.5 q-1.1,2.5 0,5.0 M-62.7,-2.5 q-1.1,2.5 0,5.0 M-65.7,-2.5 q-1.1,2.5 0,5.0 M-68.8,-2.5 q-1.1,2.5 0,5.0 M-71.8,-2.5 q-1.1,2.5 0,5.0" fill="none" stroke="#4A5E68" stroke-width="0.9" opacity="0.8"/><ellipse cx="-1.6" cy="0" rx="1.4" ry="6.2" fill="#BFE0F8" stroke="#4A5E68" stroke-width="0.8"/></g><g transform="translate(1492.8,957.4) rotate(0.00) scale(1.000,1.000)"><path d="M-2.5,-3.0 L-94.3,-3.0 L-105.3,0 L-94.3,3.0 L-2.5,3.0 Z" fill="#BFE0F8" stroke="#4A5E68" stroke-width="0.8" stroke-linejoin="miter"/><path d="M-20.0,-2.5 q-1.1,2.5 0,5.0 M-23.1,-2.5 q-1.1,2.5 0,5.0 M-26.1,-2.5 q-1.1,2.5 0,5.0 M-29.2,-2.5 q-1.1,2.5 0,5.0 M-32.2,-2.5 q-1.1,2.5 0,5.0 M-35.2,-2.5 q-1.1,2.5 0,5.0 M-38.3,-2.5 q-1.1,2.5 0,5.0 M-41.3,-2.5 q-1.1,2.5 0,5.0 M-44.4,-2.5 q-1.1,2.5 0,5.0 M-47.4,-2.5 q-1.1,2.5 0,5.0 M-50.5,-2.5 q-1.1,2.5 0,5.0 M-53.5,-2.5 q-1.1,2.5 0,5.0 M-56.6,-2.5 q-1.1,2.5 0,5.0 M-59.6,-2.5 q-1.1,2.5 0,5.0 M-62.7,-2.5 q-1.1,2.5 0,5.0 M-65.7,-2.5 q-1.1,2.5 0,5.0 M-68.8,-2.5 q-1.1,2.5 0,5.0 M-71.8,-2.5 q-1.1,2.5 0,5.0" fill="none" stroke="#4A5E68" stroke-width="0.9" opacity="0.8"/><ellipse cx="-1.6" cy="0" rx="1.4" ry="6.2" fill="#BFE0F8" stroke="#4A5E68" stroke-width="0.8"/></g></g>
<g clip-path="url(#r35)"><polygon points="55.0,1271.1 184.6,1271.1 184.6,1304.2 55.0,1304.2" fill="#EC8B69"/><g clip-path="url(#b36)"><g fill="none" stroke="#E5531C" stroke-width="2.0"><ellipse cx="115.0" cy="1271.7" rx="20.0" ry="6.0"/><ellipse cx="115.0" cy="1271.7" rx="55.0" ry="16.0"/><ellipse cx="115.0" cy="1271.7" rx="88.0" ry="27.0"/><ellipse cx="115.0" cy="1271.7" rx="118.0" ry="38.0"/><ellipse cx="115.0" cy="1271.7" rx="145.0" ry="50.0"/><ellipse cx="115.0" cy="1271.7" rx="170.0" ry="63.0"/><ellipse cx="115.0" cy="1271.7" rx="195.0" ry="77.0"/><ellipse cx="115.0" cy="1271.7" rx="220.0" ry="92.0"/><ellipse cx="115.0" cy="1271.7" rx="246.0" ry="108.0"/></g></g><polygon points="55.0,1271.1 184.6,1271.1 184.6,1304.2 55.0,1304.2" fill="none" stroke="#3C4E4E" stroke-width="2.0" stroke-linejoin="miter"/><polygon points="321.7,1271.1 451.1,1271.1 451.1,1304.2 321.7,1304.2" fill="#EC8B69"/><g clip-path="url(#b37)"><g fill="none" stroke="#E5531C" stroke-width="2.0"><ellipse cx="381.4" cy="1271.7" rx="20.0" ry="6.0"/><ellipse cx="381.4" cy="1271.7" rx="55.0" ry="16.0"/><ellipse cx="381.4" cy="1271.7" rx="88.0" ry="27.0"/><ellipse cx="381.4" cy="1271.7" rx="118.0" ry="38.0"/><ellipse cx="381.4" cy="1271.7" rx="145.0" ry="50.0"/><ellipse cx="381.4" cy="1271.7" rx="170.0" ry="63.0"/><ellipse cx="381.4" cy="1271.7" rx="195.0" ry="77.0"/><ellipse cx="381.4" cy="1271.7" rx="220.0" ry="92.0"/><ellipse cx="381.4" cy="1271.7" rx="246.0" ry="108.0"/></g></g><polygon points="321.7,1271.1 451.1,1271.1 451.1,1304.2 321.7,1304.2" fill="none" stroke="#3C4E4E" stroke-width="2.0" stroke-linejoin="miter"/><polygon points="577.2,1271.1 706.1,1271.1 706.1,1304.2 577.2,1304.2" fill="#EC8B69"/><g clip-path="url(#b38)"><g fill="none" stroke="#E5531C" stroke-width="2.0"><ellipse cx="636.7" cy="1271.7" rx="20.0" ry="6.0"/><ellipse cx="636.7" cy="1271.7" rx="55.0" ry="16.0"/><ellipse cx="636.7" cy="1271.7" rx="88.0" ry="27.0"/><ellipse cx="636.7" cy="1271.7" rx="118.0" ry="38.0"/><ellipse cx="636.7" cy="1271.7" rx="145.0" ry="50.0"/><ellipse cx="636.7" cy="1271.7" rx="170.0" ry="63.0"/><ellipse cx="636.7" cy="1271.7" rx="195.0" ry="77.0"/><ellipse cx="636.7" cy="1271.7" rx="220.0" ry="92.0"/><ellipse cx="636.7" cy="1271.7" rx="246.0" ry="108.0"/></g></g><polygon points="577.2,1271.1 706.1,1271.1 706.1,1304.2 577.2,1304.2" fill="none" stroke="#3C4E4E" stroke-width="2.0" stroke-linejoin="miter"/><polygon points="159.0,1304.2 338.9,1304.2 338.9,1338.2 159.0,1338.2" fill="#EC8B69"/><g clip-path="url(#b39)"><g fill="none" stroke="#E5531C" stroke-width="2.0"><ellipse cx="253.9" cy="1305.2" rx="20.0" ry="6.0"/><ellipse cx="253.9" cy="1305.2" rx="55.0" ry="16.0"/><ellipse cx="253.9" cy="1305.2" rx="88.0" ry="27.0"/><ellipse cx="253.9" cy="1305.2" rx="118.0" ry="38.0"/><ellipse cx="253.9" cy="1305.2" rx="145.0" ry="50.0"/><ellipse cx="253.9" cy="1305.2" rx="170.0" ry="63.0"/><ellipse cx="253.9" cy="1305.2" rx="195.0" ry="77.0"/><ellipse cx="253.9" cy="1305.2" rx="220.0" ry="92.0"/><ellipse cx="253.9" cy="1305.2" rx="246.0" ry="108.0"/></g></g><polygon points="159.0,1304.2 338.9,1304.2 338.9,1338.2 159.0,1338.2" fill="none" stroke="#3C4E4E" stroke-width="2.0" stroke-linejoin="miter"/><polygon points="425.6,1304.2 605.0,1304.2 605.0,1338.2 425.6,1338.2" fill="#EC8B69"/><g clip-path="url(#b40)"><g fill="none" stroke="#E5531C" stroke-width="2.0"><ellipse cx="520.3" cy="1305.2" rx="20.0" ry="6.0"/><ellipse cx="520.3" cy="1305.2" rx="55.0" ry="16.0"/><ellipse cx="520.3" cy="1305.2" rx="88.0" ry="27.0"/><ellipse cx="520.3" cy="1305.2" rx="118.0" ry="38.0"/><ellipse cx="520.3" cy="1305.2" rx="145.0" ry="50.0"/><ellipse cx="520.3" cy="1305.2" rx="170.0" ry="63.0"/><ellipse cx="520.3" cy="1305.2" rx="195.0" ry="77.0"/><ellipse cx="520.3" cy="1305.2" rx="220.0" ry="92.0"/><ellipse cx="520.3" cy="1305.2" rx="246.0" ry="108.0"/></g></g><polygon points="425.6,1304.2 605.0,1304.2 605.0,1338.2 425.6,1338.2" fill="none" stroke="#3C4E4E" stroke-width="2.0" stroke-linejoin="miter"/><polygon points="680.8,1304.2 795.7,1304.2 795.7,1338.2 680.8,1338.2" fill="#EC8B69"/><g clip-path="url(#b41)"><g fill="none" stroke="#E5531C" stroke-width="2.0"><ellipse cx="775.0" cy="1305.2" rx="20.0" ry="6.0"/><ellipse cx="775.0" cy="1305.2" rx="55.0" ry="16.0"/><ellipse cx="775.0" cy="1305.2" rx="88.0" ry="27.0"/><ellipse cx="775.0" cy="1305.2" rx="118.0" ry="38.0"/><ellipse cx="775.0" cy="1305.2" rx="145.0" ry="50.0"/><ellipse cx="775.0" cy="1305.2" rx="170.0" ry="63.0"/><ellipse cx="775.0" cy="1305.2" rx="195.0" ry="77.0"/><ellipse cx="775.0" cy="1305.2" rx="220.0" ry="92.0"/><ellipse cx="775.0" cy="1305.2" rx="246.0" ry="108.0"/></g></g><polygon points="680.8,1304.2 795.7,1304.2 795.7,1338.2 680.8,1338.2" fill="none" stroke="#3C4E4E" stroke-width="2.0" stroke-linejoin="miter"/><line x1="84.0" y1="1304.2" x2="756.7" y2="1304.2" stroke="#3C4E4E" stroke-width="2.2"/><line x1="84.0" y1="1338.2" x2="756.7" y2="1338.2" stroke="#3C4E4E" stroke-width="2.4"/><line x1="84.0" y1="1438.9" x2="756.7" y2="1438.9" stroke="#3C4E4E" stroke-width="2.2"/><g transform="translate(117.4,1269.0) rotate(270.00) scale(1.000,1.000)"><path d="M-2.5,-3.0 L-115.6,-3.0 L-126.6,0 L-115.6,3.0 L-2.5,3.0 Z" fill="#BFE0F8" stroke="#4A5E68" stroke-width="0.8" stroke-linejoin="miter"/><path d="M-20.0,-2.5 q-1.1,2.5 0,5.0 M-23.1,-2.5 q-1.1,2.5 0,5.0 M-26.1,-2.5 q-1.1,2.5 0,5.0 M-29.2,-2.5 q-1.1,2.5 0,5.0 M-32.2,-2.5 q-1.1,2.5 0,5.0 M-35.2,-2.5 q-1.1,2.5 0,5.0 M-38.3,-2.5 q-1.1,2.5 0,5.0 M-41.3,-2.5 q-1.1,2.5 0,5.0 M-44.4,-2.5 q-1.1,2.5 0,5.0 M-47.4,-2.5 q-1.1,2.5 0,5.0 M-50.5,-2.5 q-1.1,2.5 0,5.0 M-53.5,-2.5 q-1.1,2.5 0,5.0 M-56.6,-2.5 q-1.1,2.5 0,5.0 M-59.6,-2.5 q-1.1,2.5 0,5.0 M-62.7,-2.5 q-1.1,2.5 0,5.0 M-65.7,-2.5 q-1.1,2.5 0,5.0 M-68.8,-2.5 q-1.1,2.5 0,5.0 M-71.8,-2.5 q-1.1,2.5 0,5.0 M-74.9,-2.5 q-1.1,2.5 0,5.0 M-77.9,-2.5 q-1.1,2.5 0,5.0 M-81.0,-2.5 q-1.1,2.5 0,5.0" fill="none" stroke="#4A5E68" stroke-width="0.9" opacity="0.8"/><ellipse cx="-1.6" cy="0" rx="1.4" ry="6.2" fill="#BFE0F8" stroke="#4A5E68" stroke-width="0.8"/></g><g transform="translate(383.5,1269.0) rotate(270.00) scale(1.000,1.000)"><path d="M-2.5,-3.0 L-115.6,-3.0 L-126.6,0 L-115.6,3.0 L-2.5,3.0 Z" fill="#BFE0F8" stroke="#4A5E68" stroke-width="0.8" stroke-linejoin="miter"/><path d="M-20.0,-2.5 q-1.1,2.5 0,5.0 M-23.1,-2.5 q-1.1,2.5 0,5.0 M-26.1,-2.5 q-1.1,2.5 0,5.0 M-29.2,-2.5 q-1.1,2.5 0,5.0 M-32.2,-2.5 q-1.1,2.5 0,5.0 M-35.2,-2.5 q-1.1,2.5 0,5.0 M-38.3,-2.5 q-1.1,2.5 0,5.0 M-41.3,-2.5 q-1.1,2.5 0,5.0 M-44.4,-2.5 q-1.1,2.5 0,5.0 M-47.4,-2.5 q-1.1,2.5 0,5.0 M-50.5,-2.5 q-1.1,2.5 0,5.0 M-53.5,-2.5 q-1.1,2.5 0,5.0 M-56.6,-2.5 q-1.1,2.5 0,5.0 M-59.6,-2.5 q-1.1,2.5 0,5.0 M-62.7,-2.5 q-1.1,2.5 0,5.0 M-65.7,-2.5 q-1.1,2.5 0,5.0 M-68.8,-2.5 q-1.1,2.5 0,5.0 M-71.8,-2.5 q-1.1,2.5 0,5.0 M-74.9,-2.5 q-1.1,2.5 0,5.0 M-77.9,-2.5 q-1.1,2.5 0,5.0 M-81.0,-2.5 q-1.1,2.5 0,5.0" fill="none" stroke="#4A5E68" stroke-width="0.9" opacity="0.8"/><ellipse cx="-1.6" cy="0" rx="1.4" ry="6.2" fill="#BFE0F8" stroke="#4A5E68" stroke-width="0.8"/></g><g transform="translate(640.4,1269.0) rotate(270.00) scale(1.000,1.000)"><path d="M-2.5,-3.0 L-115.6,-3.0 L-126.6,0 L-115.6,3.0 L-2.5,3.0 Z" fill="#BFE0F8" stroke="#4A5E68" stroke-width="0.8" stroke-linejoin="miter"/><path d="M-20.0,-2.5 q-1.1,2.5 0,5.0 M-23.1,-2.5 q-1.1,2.5 0,5.0 M-26.1,-2.5 q-1.1,2.5 0,5.0 M-29.2,-2.5 q-1.1,2.5 0,5.0 M-32.2,-2.5 q-1.1,2.5 0,5.0 M-35.2,-2.5 q-1.1,2.5 0,5.0 M-38.3,-2.5 q-1.1,2.5 0,5.0 M-41.3,-2.5 q-1.1,2.5 0,5.0 M-44.4,-2.5 q-1.1,2.5 0,5.0 M-47.4,-2.5 q-1.1,2.5 0,5.0 M-50.5,-2.5 q-1.1,2.5 0,5.0 M-53.5,-2.5 q-1.1,2.5 0,5.0 M-56.6,-2.5 q-1.1,2.5 0,5.0 M-59.6,-2.5 q-1.1,2.5 0,5.0 M-62.7,-2.5 q-1.1,2.5 0,5.0 M-65.7,-2.5 q-1.1,2.5 0,5.0 M-68.8,-2.5 q-1.1,2.5 0,5.0 M-71.8,-2.5 q-1.1,2.5 0,5.0 M-74.9,-2.5 q-1.1,2.5 0,5.0 M-77.9,-2.5 q-1.1,2.5 0,5.0 M-81.0,-2.5 q-1.1,2.5 0,5.0" fill="none" stroke="#4A5E68" stroke-width="0.9" opacity="0.8"/><ellipse cx="-1.6" cy="0" rx="1.4" ry="6.2" fill="#BFE0F8" stroke="#4A5E68" stroke-width="0.8"/></g><g transform="translate(200.2,1302.4) rotate(270.00) scale(1.000,1.000)"><path d="M-2.5,-3.0 L-94.0,-3.0 L-105.0,0 L-94.0,3.0 L-2.5,3.0 Z" fill="#BFE0F8" stroke="#4A5E68" stroke-width="0.8" stroke-linejoin="miter"/><path d="M-20.0,-2.5 q-1.1,2.5 0,5.0 M-23.1,-2.5 q-1.1,2.5 0,5.0 M-26.1,-2.5 q-1.1,2.5 0,5.0 M-29.2,-2.5 q-1.1,2.5 0,5.0 M-32.2,-2.5 q-1.1,2.5 0,5.0 M-35.2,-2.5 q-1.1,2.5 0,5.0 M-38.3,-2.5 q-1.1,2.5 0,5.0 M-41.3,-2.5 q-1.1,2.5 0,5.0 M-44.4,-2.5 q-1.1,2.5 0,5.0 M-47.4,-2.5 q-1.1,2.5 0,5.0 M-50.5,-2.5 q-1.1,2.5 0,5.0 M-53.5,-2.5 q-1.1,2.5 0,5.0 M-56.6,-2.5 q-1.1,2.5 0,5.0 M-59.6,-2.5 q-1.1,2.5 0,5.0 M-62.7,-2.5 q-1.1,2.5 0,5.0 M-65.7,-2.5 q-1.1,2.5 0,5.0 M-68.8,-2.5 q-1.1,2.5 0,5.0 M-71.8,-2.5 q-1.1,2.5 0,5.0" fill="none" stroke="#4A5E68" stroke-width="0.9" opacity="0.8"/><ellipse cx="-1.6" cy="0" rx="1.4" ry="6.2" fill="#BFE0F8" stroke="#4A5E68" stroke-width="0.8"/></g><g transform="translate(292.1,1302.4) rotate(270.00) scale(1.000,1.000)"><path d="M-2.5,-3.0 L-94.0,-3.0 L-105.0,0 L-94.0,3.0 L-2.5,3.0 Z" fill="#BFE0F8" stroke="#4A5E68" stroke-width="0.8" stroke-linejoin="miter"/><path d="M-20.0,-2.5 q-1.1,2.5 0,5.0 M-23.1,-2.5 q-1.1,2.5 0,5.0 M-26.1,-2.5 q-1.1,2.5 0,5.0 M-29.2,-2.5 q-1.1,2.5 0,5.0 M-32.2,-2.5 q-1.1,2.5 0,5.0 M-35.2,-2.5 q-1.1,2.5 0,5.0 M-38.3,-2.5 q-1.1,2.5 0,5.0 M-41.3,-2.5 q-1.1,2.5 0,5.0 M-44.4,-2.5 q-1.1,2.5 0,5.0 M-47.4,-2.5 q-1.1,2.5 0,5.0 M-50.5,-2.5 q-1.1,2.5 0,5.0 M-53.5,-2.5 q-1.1,2.5 0,5.0 M-56.6,-2.5 q-1.1,2.5 0,5.0 M-59.6,-2.5 q-1.1,2.5 0,5.0 M-62.7,-2.5 q-1.1,2.5 0,5.0 M-65.7,-2.5 q-1.1,2.5 0,5.0 M-68.8,-2.5 q-1.1,2.5 0,5.0 M-71.8,-2.5 q-1.1,2.5 0,5.0" fill="none" stroke="#4A5E68" stroke-width="0.9" opacity="0.8"/><ellipse cx="-1.6" cy="0" rx="1.4" ry="6.2" fill="#BFE0F8" stroke="#4A5E68" stroke-width="0.8"/></g><g transform="translate(466.0,1302.4) rotate(270.00) scale(1.000,1.000)"><path d="M-2.5,-3.0 L-94.0,-3.0 L-105.0,0 L-94.0,3.0 L-2.5,3.0 Z" fill="#BFE0F8" stroke="#4A5E68" stroke-width="0.8" stroke-linejoin="miter"/><path d="M-20.0,-2.5 q-1.1,2.5 0,5.0 M-23.1,-2.5 q-1.1,2.5 0,5.0 M-26.1,-2.5 q-1.1,2.5 0,5.0 M-29.2,-2.5 q-1.1,2.5 0,5.0 M-32.2,-2.5 q-1.1,2.5 0,5.0 M-35.2,-2.5 q-1.1,2.5 0,5.0 M-38.3,-2.5 q-1.1,2.5 0,5.0 M-41.3,-2.5 q-1.1,2.5 0,5.0 M-44.4,-2.5 q-1.1,2.5 0,5.0 M-47.4,-2.5 q-1.1,2.5 0,5.0 M-50.5,-2.5 q-1.1,2.5 0,5.0 M-53.5,-2.5 q-1.1,2.5 0,5.0 M-56.6,-2.5 q-1.1,2.5 0,5.0 M-59.6,-2.5 q-1.1,2.5 0,5.0 M-62.7,-2.5 q-1.1,2.5 0,5.0 M-65.7,-2.5 q-1.1,2.5 0,5.0 M-68.8,-2.5 q-1.1,2.5 0,5.0 M-71.8,-2.5 q-1.1,2.5 0,5.0" fill="none" stroke="#4A5E68" stroke-width="0.9" opacity="0.8"/><ellipse cx="-1.6" cy="0" rx="1.4" ry="6.2" fill="#BFE0F8" stroke="#4A5E68" stroke-width="0.8"/></g><g transform="translate(558.1,1302.4) rotate(270.00) scale(1.000,1.000)"><path d="M-2.5,-3.0 L-94.0,-3.0 L-105.0,0 L-94.0,3.0 L-2.5,3.0 Z" fill="#BFE0F8" stroke="#4A5E68" stroke-width="0.8" stroke-linejoin="miter"/><path d="M-20.0,-2.5 q-1.1,2.5 0,5.0 M-23.1,-2.5 q-1.1,2.5 0,5.0 M-26.1,-2.5 q-1.1,2.5 0,5.0 M-29.2,-2.5 q-1.1,2.5 0,5.0 M-32.2,-2.5 q-1.1,2.5 0,5.0 M-35.2,-2.5 q-1.1,2.5 0,5.0 M-38.3,-2.5 q-1.1,2.5 0,5.0 M-41.3,-2.5 q-1.1,2.5 0,5.0 M-44.4,-2.5 q-1.1,2.5 0,5.0 M-47.4,-2.5 q-1.1,2.5 0,5.0 M-50.5,-2.5 q-1.1,2.5 0,5.0 M-53.5,-2.5 q-1.1,2.5 0,5.0 M-56.6,-2.5 q-1.1,2.5 0,5.0 M-59.6,-2.5 q-1.1,2.5 0,5.0 M-62.7,-2.5 q-1.1,2.5 0,5.0 M-65.7,-2.5 q-1.1,2.5 0,5.0 M-68.8,-2.5 q-1.1,2.5 0,5.0 M-71.8,-2.5 q-1.1,2.5 0,5.0" fill="none" stroke="#4A5E68" stroke-width="0.9" opacity="0.8"/><ellipse cx="-1.6" cy="0" rx="1.4" ry="6.2" fill="#BFE0F8" stroke="#4A5E68" stroke-width="0.8"/></g><g transform="translate(724.7,1302.4) rotate(270.00) scale(1.000,1.000)"><path d="M-2.5,-3.0 L-94.0,-3.0 L-105.0,0 L-94.0,3.0 L-2.5,3.0 Z" fill="#BFE0F8" stroke="#4A5E68" stroke-width="0.8" stroke-linejoin="miter"/><path d="M-20.0,-2.5 q-1.1,2.5 0,5.0 M-23.1,-2.5 q-1.1,2.5 0,5.0 M-26.1,-2.5 q-1.1,2.5 0,5.0 M-29.2,-2.5 q-1.1,2.5 0,5.0 M-32.2,-2.5 q-1.1,2.5 0,5.0 M-35.2,-2.5 q-1.1,2.5 0,5.0 M-38.3,-2.5 q-1.1,2.5 0,5.0 M-41.3,-2.5 q-1.1,2.5 0,5.0 M-44.4,-2.5 q-1.1,2.5 0,5.0 M-47.4,-2.5 q-1.1,2.5 0,5.0 M-50.5,-2.5 q-1.1,2.5 0,5.0 M-53.5,-2.5 q-1.1,2.5 0,5.0 M-56.6,-2.5 q-1.1,2.5 0,5.0 M-59.6,-2.5 q-1.1,2.5 0,5.0 M-62.7,-2.5 q-1.1,2.5 0,5.0 M-65.7,-2.5 q-1.1,2.5 0,5.0 M-68.8,-2.5 q-1.1,2.5 0,5.0 M-71.8,-2.5 q-1.1,2.5 0,5.0" fill="none" stroke="#4A5E68" stroke-width="0.9" opacity="0.8"/><ellipse cx="-1.6" cy="0" rx="1.4" ry="6.2" fill="#BFE0F8" stroke="#4A5E68" stroke-width="0.8"/></g></g>
<g clip-path="url(#r42)"><polygon points="54.0,1593.6 54.0,1634.0 98.1,1634.0 98.1,1621.6 81.1,1621.6 81.1,1608.3 114.1,1608.3 101.5,1593.6" fill="#EC8B69"/><g clip-path="url(#b43)"><g fill="none" stroke="#E5531C" stroke-width="2.0"><ellipse cx="20.0" cy="1593.6" rx="22.0" ry="7.5"/><ellipse cx="20.0" cy="1593.6" rx="60.5" ry="20.0"/><ellipse cx="20.0" cy="1593.6" rx="96.8" ry="33.8"/><ellipse cx="20.0" cy="1593.6" rx="129.8" ry="47.5"/><ellipse cx="20.0" cy="1593.6" rx="159.5" ry="62.5"/><ellipse cx="20.0" cy="1593.6" rx="187.0" ry="78.8"/><ellipse cx="20.0" cy="1593.6" rx="214.5" ry="96.2"/><ellipse cx="20.0" cy="1593.6" rx="242.0" ry="115.0"/><ellipse cx="20.0" cy="1593.6" rx="270.6" ry="135.0"/></g></g><polygon points="54.0,1593.6 54.0,1634.0 98.1,1634.0 98.1,1621.6 81.1,1621.6 81.1,1608.3 114.1,1608.3 101.5,1593.6" fill="none" stroke="#3C4E4E" stroke-width="1.9" stroke-linejoin="miter"/><polygon points="134.1,1593.6 120.8,1608.3 87.5,1608.3 87.5,1621.6 105.9,1621.6 105.9,1634.0 303.3,1634.0 303.3,1621.6 286.3,1621.6 286.3,1608.3 319.3,1608.3 306.7,1593.6" fill="#EC8B69"/><g clip-path="url(#b44)"><g fill="none" stroke="#E5531C" stroke-width="2.0"><ellipse cx="224.1" cy="1593.6" rx="22.0" ry="7.5"/><ellipse cx="224.1" cy="1593.6" rx="60.5" ry="20.0"/><ellipse cx="224.1" cy="1593.6" rx="96.8" ry="33.8"/><ellipse cx="224.1" cy="1593.6" rx="129.8" ry="47.5"/><ellipse cx="224.1" cy="1593.6" rx="159.5" ry="62.5"/><ellipse cx="224.1" cy="1593.6" rx="187.0" ry="78.8"/><ellipse cx="224.1" cy="1593.6" rx="214.5" ry="96.2"/><ellipse cx="224.1" cy="1593.6" rx="242.0" ry="115.0"/><ellipse cx="224.1" cy="1593.6" rx="270.6" ry="135.0"/></g></g><polygon points="134.1,1593.6 120.8,1608.3 87.5,1608.3 87.5,1621.6 105.9,1621.6 105.9,1634.0 303.3,1634.0 303.3,1621.6 286.3,1621.6 286.3,1608.3 319.3,1608.3 306.7,1593.6" fill="none" stroke="#3C4E4E" stroke-width="1.9" stroke-linejoin="miter"/><polygon points="339.3,1593.6 326.0,1608.3 292.7,1608.3 292.7,1621.6 311.1,1621.6 311.1,1634.0 508.1,1634.0 508.1,1621.6 491.1,1621.6 491.1,1608.3 524.1,1608.3 511.5,1593.6" fill="#EC8B69"/><g clip-path="url(#b45)"><g fill="none" stroke="#E5531C" stroke-width="2.0"><ellipse cx="429.1" cy="1593.6" rx="22.0" ry="7.5"/><ellipse cx="429.1" cy="1593.6" rx="60.5" ry="20.0"/><ellipse cx="429.1" cy="1593.6" rx="96.8" ry="33.8"/><ellipse cx="429.1" cy="1593.6" rx="129.8" ry="47.5"/><ellipse cx="429.1" cy="1593.6" rx="159.5" ry="62.5"/><ellipse cx="429.1" cy="1593.6" rx="187.0" ry="78.8"/><ellipse cx="429.1" cy="1593.6" rx="214.5" ry="96.2"/><ellipse cx="429.1" cy="1593.6" rx="242.0" ry="115.0"/><ellipse cx="429.1" cy="1593.6" rx="270.6" ry="135.0"/></g></g><polygon points="339.3,1593.6 326.0,1608.3 292.7,1608.3 292.7,1621.6 311.1,1621.6 311.1,1634.0 508.1,1634.0 508.1,1621.6 491.1,1621.6 491.1,1608.3 524.1,1608.3 511.5,1593.6" fill="none" stroke="#3C4E4E" stroke-width="1.9" stroke-linejoin="miter"/><polygon points="544.1,1593.6 530.8,1608.3 497.5,1608.3 497.5,1621.6 515.9,1621.6 515.9,1634.0 713.8,1634.0 713.8,1621.6 696.8,1621.6 696.8,1608.3 729.8,1608.3 717.2,1593.6" fill="#EC8B69"/><g clip-path="url(#b46)"><g fill="none" stroke="#E5531C" stroke-width="2.0"><ellipse cx="634.4" cy="1593.6" rx="22.0" ry="7.5"/><ellipse cx="634.4" cy="1593.6" rx="60.5" ry="20.0"/><ellipse cx="634.4" cy="1593.6" rx="96.8" ry="33.8"/><ellipse cx="634.4" cy="1593.6" rx="129.8" ry="47.5"/><ellipse cx="634.4" cy="1593.6" rx="159.5" ry="62.5"/><ellipse cx="634.4" cy="1593.6" rx="187.0" ry="78.8"/><ellipse cx="634.4" cy="1593.6" rx="214.5" ry="96.2"/><ellipse cx="634.4" cy="1593.6" rx="242.0" ry="115.0"/><ellipse cx="634.4" cy="1593.6" rx="270.6" ry="135.0"/></g></g><polygon points="544.1,1593.6 530.8,1608.3 497.5,1608.3 497.5,1621.6 515.9,1621.6 515.9,1634.0 713.8,1634.0 713.8,1621.6 696.8,1621.6 696.8,1608.3 729.8,1608.3 717.2,1593.6" fill="none" stroke="#3C4E4E" stroke-width="1.9" stroke-linejoin="miter"/><polygon points="796.7,1593.6 796.7,1634.0 721.6,1634.0 721.6,1621.6 703.2,1621.6 703.2,1608.3 736.5,1608.3 749.8,1593.6" fill="#EC8B69"/><g clip-path="url(#b47)"><g fill="none" stroke="#E5531C" stroke-width="2.0"><ellipse cx="837.2" cy="1593.6" rx="22.0" ry="7.5"/><ellipse cx="837.2" cy="1593.6" rx="60.5" ry="20.0"/><ellipse cx="837.2" cy="1593.6" rx="96.8" ry="33.8"/><ellipse cx="837.2" cy="1593.6" rx="129.8" ry="47.5"/><ellipse cx="837.2" cy="1593.6" rx="159.5" ry="62.5"/><ellipse cx="837.2" cy="1593.6" rx="187.0" ry="78.8"/><ellipse cx="837.2" cy="1593.6" rx="214.5" ry="96.2"/><ellipse cx="837.2" cy="1593.6" rx="242.0" ry="115.0"/><ellipse cx="837.2" cy="1593.6" rx="270.6" ry="135.0"/></g></g><polygon points="796.7,1593.6 796.7,1634.0 721.6,1634.0 721.6,1621.6 703.2,1621.6 703.2,1608.3 736.5,1608.3 749.8,1593.6" fill="none" stroke="#3C4E4E" stroke-width="1.9" stroke-linejoin="miter"/><line x1="84.0" y1="1635.0" x2="756.7" y2="1635.0" stroke="#3C4E4E" stroke-width="3.2"/><line x1="84.0" y1="1735.5" x2="756.7" y2="1735.5" stroke="#3C4E4E" stroke-width="2.2"/><g transform="translate(216.1,1591.5) rotate(270.00) scale(1.000,1.000)"><path d="M-2.5,-3.0 L-94.7,-3.0 L-105.7,0 L-94.7,3.0 L-2.5,3.0 Z" fill="#BFE0F8" stroke="#4A5E68" stroke-width="0.8" stroke-linejoin="miter"/><path d="M-20.0,-2.5 q-1.1,2.5 0,5.0 M-23.1,-2.5 q-1.1,2.5 0,5.0 M-26.1,-2.5 q-1.1,2.5 0,5.0 M-29.2,-2.5 q-1.1,2.5 0,5.0 M-32.2,-2.5 q-1.1,2.5 0,5.0 M-35.2,-2.5 q-1.1,2.5 0,5.0 M-38.3,-2.5 q-1.1,2.5 0,5.0 M-41.3,-2.5 q-1.1,2.5 0,5.0 M-44.4,-2.5 q-1.1,2.5 0,5.0 M-47.4,-2.5 q-1.1,2.5 0,5.0 M-50.5,-2.5 q-1.1,2.5 0,5.0 M-53.5,-2.5 q-1.1,2.5 0,5.0 M-56.6,-2.5 q-1.1,2.5 0,5.0 M-59.6,-2.5 q-1.1,2.5 0,5.0 M-62.7,-2.5 q-1.1,2.5 0,5.0 M-65.7,-2.5 q-1.1,2.5 0,5.0 M-68.8,-2.5 q-1.1,2.5 0,5.0 M-71.8,-2.5 q-1.1,2.5 0,5.0" fill="none" stroke="#4A5E68" stroke-width="0.9" opacity="0.8"/><ellipse cx="-1.6" cy="0" rx="1.4" ry="6.2" fill="#BFE0F8" stroke="#4A5E68" stroke-width="0.8"/></g><g transform="translate(418.7,1593.5) rotate(270.00) scale(1.000,1.000)"><path d="M-2.5,-3.0 L-94.7,-3.0 L-105.7,0 L-94.7,3.0 L-2.5,3.0 Z" fill="#BFE0F8" stroke="#4A5E68" stroke-width="0.8" stroke-linejoin="miter"/><path d="M-20.0,-2.5 q-1.1,2.5 0,5.0 M-23.1,-2.5 q-1.1,2.5 0,5.0 M-26.1,-2.5 q-1.1,2.5 0,5.0 M-29.2,-2.5 q-1.1,2.5 0,5.0 M-32.2,-2.5 q-1.1,2.5 0,5.0 M-35.2,-2.5 q-1.1,2.5 0,5.0 M-38.3,-2.5 q-1.1,2.5 0,5.0 M-41.3,-2.5 q-1.1,2.5 0,5.0 M-44.4,-2.5 q-1.1,2.5 0,5.0 M-47.4,-2.5 q-1.1,2.5 0,5.0 M-50.5,-2.5 q-1.1,2.5 0,5.0 M-53.5,-2.5 q-1.1,2.5 0,5.0 M-56.6,-2.5 q-1.1,2.5 0,5.0 M-59.6,-2.5 q-1.1,2.5 0,5.0 M-62.7,-2.5 q-1.1,2.5 0,5.0 M-65.7,-2.5 q-1.1,2.5 0,5.0 M-68.8,-2.5 q-1.1,2.5 0,5.0 M-71.8,-2.5 q-1.1,2.5 0,5.0" fill="none" stroke="#4A5E68" stroke-width="0.9" opacity="0.8"/><ellipse cx="-1.6" cy="0" rx="1.4" ry="6.2" fill="#BFE0F8" stroke="#4A5E68" stroke-width="0.8"/></g><g transform="translate(627.8,1589.7) rotate(270.00) scale(1.000,1.000)"><path d="M-2.5,-3.0 L-94.7,-3.0 L-105.7,0 L-94.7,3.0 L-2.5,3.0 Z" fill="#BFE0F8" stroke="#4A5E68" stroke-width="0.8" stroke-linejoin="miter"/><path d="M-20.0,-2.5 q-1.1,2.5 0,5.0 M-23.1,-2.5 q-1.1,2.5 0,5.0 M-26.1,-2.5 q-1.1,2.5 0,5.0 M-29.2,-2.5 q-1.1,2.5 0,5.0 M-32.2,-2.5 q-1.1,2.5 0,5.0 M-35.2,-2.5 q-1.1,2.5 0,5.0 M-38.3,-2.5 q-1.1,2.5 0,5.0 M-41.3,-2.5 q-1.1,2.5 0,5.0 M-44.4,-2.5 q-1.1,2.5 0,5.0 M-47.4,-2.5 q-1.1,2.5 0,5.0 M-50.5,-2.5 q-1.1,2.5 0,5.0 M-53.5,-2.5 q-1.1,2.5 0,5.0 M-56.6,-2.5 q-1.1,2.5 0,5.0 M-59.6,-2.5 q-1.1,2.5 0,5.0 M-62.7,-2.5 q-1.1,2.5 0,5.0 M-65.7,-2.5 q-1.1,2.5 0,5.0 M-68.8,-2.5 q-1.1,2.5 0,5.0 M-71.8,-2.5 q-1.1,2.5 0,5.0" fill="none" stroke="#4A5E68" stroke-width="0.9" opacity="0.8"/><ellipse cx="-1.6" cy="0" rx="1.4" ry="6.2" fill="#BFE0F8" stroke="#4A5E68" stroke-width="0.8"/></g></g>
<g clip-path="url(#r48)"><polygon points="-15.0,1901.3 -15.0,1919.7 8.4,1919.7 8.4,1940.8 220.8,1940.8 220.8,1919.7 188.2,1919.7 188.2,1901.3" fill="#EC8B69"/><g clip-path="url(#b49)"><g fill="none" stroke="#E5531C" stroke-width="2.0"><ellipse cx="109.7" cy="1901.3" rx="23.0" ry="7.2"/><ellipse cx="109.7" cy="1901.3" rx="63.2" ry="19.2"/><ellipse cx="109.7" cy="1901.3" rx="101.2" ry="32.4"/><ellipse cx="109.7" cy="1901.3" rx="135.7" ry="45.6"/><ellipse cx="109.7" cy="1901.3" rx="166.8" ry="60.0"/><ellipse cx="109.7" cy="1901.3" rx="195.5" ry="75.6"/><ellipse cx="109.7" cy="1901.3" rx="224.2" ry="92.4"/><ellipse cx="109.7" cy="1901.3" rx="253.0" ry="110.4"/><ellipse cx="109.7" cy="1901.3" rx="282.9" ry="129.6"/></g></g><polygon points="-15.0,1901.3 -15.0,1919.7 8.4,1919.7 8.4,1940.8 220.8,1940.8 220.8,1919.7 188.2,1919.7 188.2,1901.3" fill="none" stroke="#3C4E4E" stroke-width="1.9" stroke-linejoin="miter"/><polygon points="202.0,1901.3 202.0,1919.7 225.4,1919.7 225.4,1940.8 437.8,1940.8 437.8,1919.7 405.2,1919.7 405.2,1901.3" fill="#EC8B69"/><g clip-path="url(#b50)"><g fill="none" stroke="#E5531C" stroke-width="2.0"><ellipse cx="326.7" cy="1901.3" rx="23.0" ry="7.2"/><ellipse cx="326.7" cy="1901.3" rx="63.2" ry="19.2"/><ellipse cx="326.7" cy="1901.3" rx="101.2" ry="32.4"/><ellipse cx="326.7" cy="1901.3" rx="135.7" ry="45.6"/><ellipse cx="326.7" cy="1901.3" rx="166.8" ry="60.0"/><ellipse cx="326.7" cy="1901.3" rx="195.5" ry="75.6"/><ellipse cx="326.7" cy="1901.3" rx="224.2" ry="92.4"/><ellipse cx="326.7" cy="1901.3" rx="253.0" ry="110.4"/><ellipse cx="326.7" cy="1901.3" rx="282.9" ry="129.6"/></g></g><polygon points="202.0,1901.3 202.0,1919.7 225.4,1919.7 225.4,1940.8 437.8,1940.8 437.8,1919.7 405.2,1919.7 405.2,1901.3" fill="none" stroke="#3C4E4E" stroke-width="1.9" stroke-linejoin="miter"/><polygon points="419.0,1901.3 419.0,1919.7 442.4,1919.7 442.4,1940.8 654.8,1940.8 654.8,1919.7 622.2,1919.7 622.2,1901.3" fill="#EC8B69"/><g clip-path="url(#b51)"><g fill="none" stroke="#E5531C" stroke-width="2.0"><ellipse cx="543.7" cy="1901.3" rx="23.0" ry="7.2"/><ellipse cx="543.7" cy="1901.3" rx="63.2" ry="19.2"/><ellipse cx="543.7" cy="1901.3" rx="101.2" ry="32.4"/><ellipse cx="543.7" cy="1901.3" rx="135.7" ry="45.6"/><ellipse cx="543.7" cy="1901.3" rx="166.8" ry="60.0"/><ellipse cx="543.7" cy="1901.3" rx="195.5" ry="75.6"/><ellipse cx="543.7" cy="1901.3" rx="224.2" ry="92.4"/><ellipse cx="543.7" cy="1901.3" rx="253.0" ry="110.4"/><ellipse cx="543.7" cy="1901.3" rx="282.9" ry="129.6"/></g></g><polygon points="419.0,1901.3 419.0,1919.7 442.4,1919.7 442.4,1940.8 654.8,1940.8 654.8,1919.7 622.2,1919.7 622.2,1901.3" fill="none" stroke="#3C4E4E" stroke-width="1.9" stroke-linejoin="miter"/><polygon points="636.0,1901.3 636.0,1919.7 659.4,1919.7 659.4,1940.8 796.8,1940.8 796.8,1901.3" fill="#EC8B69"/><g clip-path="url(#b52)"><g fill="none" stroke="#E5531C" stroke-width="2.0"><ellipse cx="762.2" cy="1901.3" rx="23.0" ry="7.2"/><ellipse cx="762.2" cy="1901.3" rx="63.2" ry="19.2"/><ellipse cx="762.2" cy="1901.3" rx="101.2" ry="32.4"/><ellipse cx="762.2" cy="1901.3" rx="135.7" ry="45.6"/><ellipse cx="762.2" cy="1901.3" rx="166.8" ry="60.0"/><ellipse cx="762.2" cy="1901.3" rx="195.5" ry="75.6"/><ellipse cx="762.2" cy="1901.3" rx="224.2" ry="92.4"/><ellipse cx="762.2" cy="1901.3" rx="253.0" ry="110.4"/><ellipse cx="762.2" cy="1901.3" rx="282.9" ry="129.6"/></g></g><polygon points="636.0,1901.3 636.0,1919.7 659.4,1919.7 659.4,1940.8 796.8,1940.8 796.8,1901.3" fill="none" stroke="#3C4E4E" stroke-width="1.9" stroke-linejoin="miter"/><line x1="83.8" y1="1941.8" x2="756.8" y2="1941.8" stroke="#3C4E4E" stroke-width="3.4"/><line x1="83.8" y1="2043.0" x2="756.8" y2="2043.0" stroke="#3C4E4E" stroke-width="2.2"/><g transform="translate(194.1,1920.0) rotate(270.00) scale(1.000,1.000)"><path d="M-2.5,-3.0 L-93.0,-3.0 L-104.0,0 L-93.0,3.0 L-2.5,3.0 Z" fill="#BFE0F8" stroke="#4A5E68" stroke-width="0.8" stroke-linejoin="miter"/><path d="M-20.0,-2.5 q-1.1,2.5 0,5.0 M-23.1,-2.5 q-1.1,2.5 0,5.0 M-26.1,-2.5 q-1.1,2.5 0,5.0 M-29.2,-2.5 q-1.1,2.5 0,5.0 M-32.2,-2.5 q-1.1,2.5 0,5.0 M-35.2,-2.5 q-1.1,2.5 0,5.0 M-38.3,-2.5 q-1.1,2.5 0,5.0 M-41.3,-2.5 q-1.1,2.5 0,5.0 M-44.4,-2.5 q-1.1,2.5 0,5.0 M-47.4,-2.5 q-1.1,2.5 0,5.0 M-50.5,-2.5 q-1.1,2.5 0,5.0 M-53.5,-2.5 q-1.1,2.5 0,5.0 M-56.6,-2.5 q-1.1,2.5 0,5.0 M-59.6,-2.5 q-1.1,2.5 0,5.0 M-62.7,-2.5 q-1.1,2.5 0,5.0 M-65.7,-2.5 q-1.1,2.5 0,5.0 M-68.8,-2.5 q-1.1,2.5 0,5.0 M-71.8,-2.5 q-1.1,2.5 0,5.0" fill="none" stroke="#4A5E68" stroke-width="0.9" opacity="0.8"/><ellipse cx="-1.6" cy="0" rx="1.4" ry="6.2" fill="#BFE0F8" stroke="#4A5E68" stroke-width="0.8"/></g><g transform="translate(411.1,1920.0) rotate(270.00) scale(1.000,1.000)"><path d="M-2.5,-3.0 L-93.0,-3.0 L-104.0,0 L-93.0,3.0 L-2.5,3.0 Z" fill="#BFE0F8" stroke="#4A5E68" stroke-width="0.8" stroke-linejoin="miter"/><path d="M-20.0,-2.5 q-1.1,2.5 0,5.0 M-23.1,-2.5 q-1.1,2.5 0,5.0 M-26.1,-2.5 q-1.1,2.5 0,5.0 M-29.2,-2.5 q-1.1,2.5 0,5.0 M-32.2,-2.5 q-1.1,2.5 0,5.0 M-35.2,-2.5 q-1.1,2.5 0,5.0 M-38.3,-2.5 q-1.1,2.5 0,5.0 M-41.3,-2.5 q-1.1,2.5 0,5.0 M-44.4,-2.5 q-1.1,2.5 0,5.0 M-47.4,-2.5 q-1.1,2.5 0,5.0 M-50.5,-2.5 q-1.1,2.5 0,5.0 M-53.5,-2.5 q-1.1,2.5 0,5.0 M-56.6,-2.5 q-1.1,2.5 0,5.0 M-59.6,-2.5 q-1.1,2.5 0,5.0 M-62.7,-2.5 q-1.1,2.5 0,5.0 M-65.7,-2.5 q-1.1,2.5 0,5.0 M-68.8,-2.5 q-1.1,2.5 0,5.0 M-71.8,-2.5 q-1.1,2.5 0,5.0" fill="none" stroke="#4A5E68" stroke-width="0.9" opacity="0.8"/><ellipse cx="-1.6" cy="0" rx="1.4" ry="6.2" fill="#BFE0F8" stroke="#4A5E68" stroke-width="0.8"/></g><g transform="translate(628.1,1920.0) rotate(270.00) scale(1.000,1.000)"><path d="M-2.5,-3.0 L-93.0,-3.0 L-104.0,0 L-93.0,3.0 L-2.5,3.0 Z" fill="#BFE0F8" stroke="#4A5E68" stroke-width="0.8" stroke-linejoin="miter"/><path d="M-20.0,-2.5 q-1.1,2.5 0,5.0 M-23.1,-2.5 q-1.1,2.5 0,5.0 M-26.1,-2.5 q-1.1,2.5 0,5.0 M-29.2,-2.5 q-1.1,2.5 0,5.0 M-32.2,-2.5 q-1.1,2.5 0,5.0 M-35.2,-2.5 q-1.1,2.5 0,5.0 M-38.3,-2.5 q-1.1,2.5 0,5.0 M-41.3,-2.5 q-1.1,2.5 0,5.0 M-44.4,-2.5 q-1.1,2.5 0,5.0 M-47.4,-2.5 q-1.1,2.5 0,5.0 M-50.5,-2.5 q-1.1,2.5 0,5.0 M-53.5,-2.5 q-1.1,2.5 0,5.0 M-56.6,-2.5 q-1.1,2.5 0,5.0 M-59.6,-2.5 q-1.1,2.5 0,5.0 M-62.7,-2.5 q-1.1,2.5 0,5.0 M-65.7,-2.5 q-1.1,2.5 0,5.0 M-68.8,-2.5 q-1.1,2.5 0,5.0 M-71.8,-2.5 q-1.1,2.5 0,5.0" fill="none" stroke="#4A5E68" stroke-width="0.9" opacity="0.8"/><ellipse cx="-1.6" cy="0" rx="1.4" ry="6.2" fill="#BFE0F8" stroke="#4A5E68" stroke-width="0.8"/></g><g transform="translate(254.2,1900.6) rotate(270.00) scale(1.000,1.000)"><path d="M-2.5,-3.0 L-93.0,-3.0 L-104.0,0 L-93.0,3.0 L-2.5,3.0 Z" fill="#BFE0F8" stroke="#4A5E68" stroke-width="0.8" stroke-linejoin="miter"/><path d="M-20.0,-2.5 q-1.1,2.5 0,5.0 M-23.1,-2.5 q-1.1,2.5 0,5.0 M-26.1,-2.5 q-1.1,2.5 0,5.0 M-29.2,-2.5 q-1.1,2.5 0,5.0 M-32.2,-2.5 q-1.1,2.5 0,5.0 M-35.2,-2.5 q-1.1,2.5 0,5.0 M-38.3,-2.5 q-1.1,2.5 0,5.0 M-41.3,-2.5 q-1.1,2.5 0,5.0 M-44.4,-2.5 q-1.1,2.5 0,5.0 M-47.4,-2.5 q-1.1,2.5 0,5.0 M-50.5,-2.5 q-1.1,2.5 0,5.0 M-53.5,-2.5 q-1.1,2.5 0,5.0 M-56.6,-2.5 q-1.1,2.5 0,5.0 M-59.6,-2.5 q-1.1,2.5 0,5.0 M-62.7,-2.5 q-1.1,2.5 0,5.0 M-65.7,-2.5 q-1.1,2.5 0,5.0 M-68.8,-2.5 q-1.1,2.5 0,5.0 M-71.8,-2.5 q-1.1,2.5 0,5.0" fill="none" stroke="#4A5E68" stroke-width="0.9" opacity="0.8"/><ellipse cx="-1.6" cy="0" rx="1.4" ry="6.2" fill="#BFE0F8" stroke="#4A5E68" stroke-width="0.8"/></g><g transform="translate(468.9,1902.0) rotate(270.00) scale(1.000,1.000)"><path d="M-2.5,-3.0 L-93.0,-3.0 L-104.0,0 L-93.0,3.0 L-2.5,3.0 Z" fill="#BFE0F8" stroke="#4A5E68" stroke-width="0.8" stroke-linejoin="miter"/><path d="M-20.0,-2.5 q-1.1,2.5 0,5.0 M-23.1,-2.5 q-1.1,2.5 0,5.0 M-26.1,-2.5 q-1.1,2.5 0,5.0 M-29.2,-2.5 q-1.1,2.5 0,5.0 M-32.2,-2.5 q-1.1,2.5 0,5.0 M-35.2,-2.5 q-1.1,2.5 0,5.0 M-38.3,-2.5 q-1.1,2.5 0,5.0 M-41.3,-2.5 q-1.1,2.5 0,5.0 M-44.4,-2.5 q-1.1,2.5 0,5.0 M-47.4,-2.5 q-1.1,2.5 0,5.0 M-50.5,-2.5 q-1.1,2.5 0,5.0 M-53.5,-2.5 q-1.1,2.5 0,5.0 M-56.6,-2.5 q-1.1,2.5 0,5.0 M-59.6,-2.5 q-1.1,2.5 0,5.0 M-62.7,-2.5 q-1.1,2.5 0,5.0 M-65.7,-2.5 q-1.1,2.5 0,5.0 M-68.8,-2.5 q-1.1,2.5 0,5.0 M-71.8,-2.5 q-1.1,2.5 0,5.0" fill="none" stroke="#4A5E68" stroke-width="0.9" opacity="0.8"/><ellipse cx="-1.6" cy="0" rx="1.4" ry="6.2" fill="#BFE0F8" stroke="#4A5E68" stroke-width="0.8"/></g><g transform="translate(686.6,1900.3) rotate(270.00) scale(1.000,1.000)"><path d="M-2.5,-3.0 L-93.0,-3.0 L-104.0,0 L-93.0,3.0 L-2.5,3.0 Z" fill="#BFE0F8" stroke="#4A5E68" stroke-width="0.8" stroke-linejoin="miter"/><path d="M-20.0,-2.5 q-1.1,2.5 0,5.0 M-23.1,-2.5 q-1.1,2.5 0,5.0 M-26.1,-2.5 q-1.1,2.5 0,5.0 M-29.2,-2.5 q-1.1,2.5 0,5.0 M-32.2,-2.5 q-1.1,2.5 0,5.0 M-35.2,-2.5 q-1.1,2.5 0,5.0 M-38.3,-2.5 q-1.1,2.5 0,5.0 M-41.3,-2.5 q-1.1,2.5 0,5.0 M-44.4,-2.5 q-1.1,2.5 0,5.0 M-47.4,-2.5 q-1.1,2.5 0,5.0 M-50.5,-2.5 q-1.1,2.5 0,5.0 M-53.5,-2.5 q-1.1,2.5 0,5.0 M-56.6,-2.5 q-1.1,2.5 0,5.0 M-59.6,-2.5 q-1.1,2.5 0,5.0 M-62.7,-2.5 q-1.1,2.5 0,5.0 M-65.7,-2.5 q-1.1,2.5 0,5.0 M-68.8,-2.5 q-1.1,2.5 0,5.0 M-71.8,-2.5 q-1.1,2.5 0,5.0" fill="none" stroke="#4A5E68" stroke-width="0.9" opacity="0.8"/><ellipse cx="-1.6" cy="0" rx="1.4" ry="6.2" fill="#BFE0F8" stroke="#4A5E68" stroke-width="0.8"/></g></g><g clip-path="url(#k53)"><rect x="0.0" y="1770.0" width="260.0" height="260.0" fill="#fff"/><polygon points="-10.0,1835.2 91.9,1835.2 91.9,1858.2 132.0,1858.2 132.0,1885.0 -10.0,1885.0" fill="#EC8B69"/><g clip-path="url(#b54)"><g fill="none" stroke="#E5531C" stroke-width="2.0"><ellipse cx="-30.0" cy="1835.2" rx="28.0" ry="8.4"/><ellipse cx="-30.0" cy="1835.2" rx="77.0" ry="22.4"/><ellipse cx="-30.0" cy="1835.2" rx="123.2" ry="37.8"/><ellipse cx="-30.0" cy="1835.2" rx="165.2" ry="53.2"/><ellipse cx="-30.0" cy="1835.2" rx="203.0" ry="70.0"/><ellipse cx="-30.0" cy="1835.2" rx="238.0" ry="88.2"/><ellipse cx="-30.0" cy="1835.2" rx="273.0" ry="107.8"/><ellipse cx="-30.0" cy="1835.2" rx="308.0" ry="128.8"/><ellipse cx="-30.0" cy="1835.2" rx="344.4" ry="151.2"/></g></g><polygon points="-10.0,1835.2 91.9,1835.2 91.9,1858.2 132.0,1858.2 132.0,1885.0 -10.0,1885.0" fill="none" stroke="#3C4E4E" stroke-width="2.6" stroke-linejoin="miter"/><polygon points="108.7,1835.2 270.0,1835.2 270.0,1885.0 139.0,1885.0 139.0,1858.2 108.7,1858.2" fill="#EC8B69"/><g clip-path="url(#b55)"><g fill="none" stroke="#E5531C" stroke-width="2.0"><ellipse cx="285.0" cy="1835.2" rx="28.0" ry="8.4"/><ellipse cx="285.0" cy="1835.2" rx="77.0" ry="22.4"/><ellipse cx="285.0" cy="1835.2" rx="123.2" ry="37.8"/><ellipse cx="285.0" cy="1835.2" rx="165.2" ry="53.2"/><ellipse cx="285.0" cy="1835.2" rx="203.0" ry="70.0"/><ellipse cx="285.0" cy="1835.2" rx="238.0" ry="88.2"/><ellipse cx="285.0" cy="1835.2" rx="273.0" ry="107.8"/><ellipse cx="285.0" cy="1835.2" rx="308.0" ry="128.8"/><ellipse cx="285.0" cy="1835.2" rx="344.4" ry="151.2"/></g></g><polygon points="108.7,1835.2 270.0,1835.2 270.0,1885.0 139.0,1885.0 139.0,1858.2 108.7,1858.2" fill="none" stroke="#3C4E4E" stroke-width="2.6" stroke-linejoin="miter"/><line x1="0.0" y1="1886.6" x2="260.0" y2="1886.6" stroke="#3C4E4E" stroke-width="4.2"/><g transform="translate(101.2,1860.0) rotate(270.00) scale(1.260,1.300)"><path d="M-2.5,-3.0 L-93.36507936507937,-3.0 L-104.36507936507937,0 L-93.36507936507937,3.0 L-2.5,3.0 Z" fill="#BFE0F8" stroke="#4A5E68" stroke-width="0.8" stroke-linejoin="miter"/><path d="M-20.0,-2.5 q-1.1,2.5 0,5.0 M-23.1,-2.5 q-1.1,2.5 0,5.0 M-26.1,-2.5 q-1.1,2.5 0,5.0 M-29.2,-2.5 q-1.1,2.5 0,5.0 M-32.2,-2.5 q-1.1,2.5 0,5.0 M-35.2,-2.5 q-1.1,2.5 0,5.0 M-38.3,-2.5 q-1.1,2.5 0,5.0 M-41.3,-2.5 q-1.1,2.5 0,5.0 M-44.4,-2.5 q-1.1,2.5 0,5.0 M-47.4,-2.5 q-1.1,2.5 0,5.0 M-50.5,-2.5 q-1.1,2.5 0,5.0 M-53.5,-2.5 q-1.1,2.5 0,5.0 M-56.6,-2.5 q-1.1,2.5 0,5.0 M-59.6,-2.5 q-1.1,2.5 0,5.0 M-62.7,-2.5 q-1.1,2.5 0,5.0 M-65.7,-2.5 q-1.1,2.5 0,5.0 M-68.8,-2.5 q-1.1,2.5 0,5.0 M-71.8,-2.5 q-1.1,2.5 0,5.0" fill="none" stroke="#4A5E68" stroke-width="0.9" opacity="0.8"/><ellipse cx="-1.6" cy="0" rx="1.4" ry="6.2" fill="#BFE0F8" stroke="#4A5E68" stroke-width="0.8"/></g><g transform="translate(173.7,1834.0) rotate(270.00) scale(1.260,1.300)"><path d="M-2.5,-3.0 L-93.60317460317461,-3.0 L-104.60317460317461,0 L-93.60317460317461,3.0 L-2.5,3.0 Z" fill="#BFE0F8" stroke="#4A5E68" stroke-width="0.8" stroke-linejoin="miter"/><path d="M-20.0,-2.5 q-1.1,2.5 0,5.0 M-23.1,-2.5 q-1.1,2.5 0,5.0 M-26.1,-2.5 q-1.1,2.5 0,5.0 M-29.2,-2.5 q-1.1,2.5 0,5.0 M-32.2,-2.5 q-1.1,2.5 0,5.0 M-35.2,-2.5 q-1.1,2.5 0,5.0 M-38.3,-2.5 q-1.1,2.5 0,5.0 M-41.3,-2.5 q-1.1,2.5 0,5.0 M-44.4,-2.5 q-1.1,2.5 0,5.0 M-47.4,-2.5 q-1.1,2.5 0,5.0 M-50.5,-2.5 q-1.1,2.5 0,5.0 M-53.5,-2.5 q-1.1,2.5 0,5.0 M-56.6,-2.5 q-1.1,2.5 0,5.0 M-59.6,-2.5 q-1.1,2.5 0,5.0 M-62.7,-2.5 q-1.1,2.5 0,5.0 M-65.7,-2.5 q-1.1,2.5 0,5.0 M-68.8,-2.5 q-1.1,2.5 0,5.0 M-71.8,-2.5 q-1.1,2.5 0,5.0" fill="none" stroke="#4A5E68" stroke-width="0.9" opacity="0.8"/><ellipse cx="-1.6" cy="0" rx="1.4" ry="6.2" fill="#BFE0F8" stroke="#4A5E68" stroke-width="0.8"/></g></g><circle cx="126.1" cy="1896.8" r="117.9" fill="none" stroke="#A6A6A6" stroke-width="8.2"/>
</svg>
</body></html>
